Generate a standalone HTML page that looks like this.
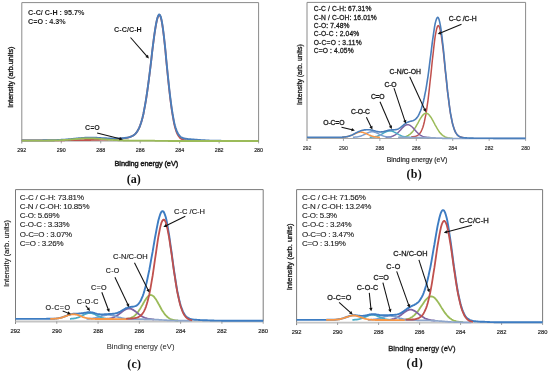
<!DOCTYPE html>
<html><head><meta charset="utf-8"><title>XPS C1s spectra</title>
<style>html,body{margin:0;padding:0;background:#fff;width:550px;height:373px;overflow:hidden}svg{display:block}</style>
</head><body>
<svg width="550" height="373" viewBox="0 0 550 373">
<rect width="550" height="373" fill="#fff"/>
<path d="M21.80,143.50 V2.60 H258.60 V141.00" fill="none" stroke="#8A8A8A" stroke-width="1"/>
<line x1="21.80" y1="141.00" x2="258.60" y2="141.00" stroke="#9A9A9A" stroke-width="1.0"/>
<line x1="61.27" y1="141.00" x2="61.27" y2="143.40" stroke="#8A8A8A" stroke-width="0.8"/>
<line x1="100.73" y1="141.00" x2="100.73" y2="143.40" stroke="#8A8A8A" stroke-width="0.8"/>
<line x1="140.20" y1="141.00" x2="140.20" y2="143.40" stroke="#8A8A8A" stroke-width="0.8"/>
<line x1="179.67" y1="141.00" x2="179.67" y2="143.40" stroke="#8A8A8A" stroke-width="0.8"/>
<line x1="219.13" y1="141.00" x2="219.13" y2="143.40" stroke="#8A8A8A" stroke-width="0.8"/>
<line x1="258.60" y1="141.00" x2="258.60" y2="143.40" stroke="#8A8A8A" stroke-width="0.8"/>
<path d="M21.8,140.4 22.6,140.4 23.4,140.4 24.2,140.4 25.0,140.4 25.7,140.4 26.5,140.4 27.3,140.4 28.1,140.4 28.9,140.4 29.7,140.4 30.5,140.4 31.3,140.4 32.1,140.4 32.9,140.4 33.6,140.4 34.4,140.4 35.2,140.4 36.0,140.4 36.8,140.4 37.6,140.4 38.4,140.4 39.2,140.4 40.0,140.4 40.7,140.4 41.5,140.4 42.3,140.4 43.1,140.4 43.9,140.4 44.7,140.4 45.5,140.4 46.3,140.4 47.1,140.4 47.8,140.3 48.6,140.3 49.4,140.3 50.2,140.3 51.0,140.3 51.8,140.3 52.6,140.3 53.4,140.3 54.2,140.3 55.0,140.3 55.7,140.3 56.5,140.3 57.3,140.3 58.1,140.3 58.9,140.3 59.7,140.3 60.5,140.3 61.3,140.3 62.1,140.3 62.8,140.3 63.6,140.3 64.4,140.3 65.2,140.2 66.0,140.2 66.8,140.2 67.6,140.2 68.4,140.2 69.2,140.2 69.9,140.2 70.7,140.2 71.5,140.2 72.3,140.2 73.1,140.2 73.9,140.2 74.7,140.2 75.5,140.2 76.3,140.2 77.1,140.1 77.8,140.1 78.6,140.1 79.4,140.1 80.2,140.1 81.0,140.1 81.8,140.1 82.6,140.1 83.4,140.1 84.2,140.1 84.9,140.0 85.7,140.0 86.5,140.0 87.3,140.0 88.1,140.0 88.9,140.0 89.7,140.0 90.5,140.0 91.3,139.9 92.1,139.9 92.8,139.9 93.6,139.9 94.4,139.9 95.2,139.9 96.0,139.8 96.8,139.8 97.6,139.8 98.4,139.8 99.2,139.8 99.9,139.7 100.7,139.7 101.5,139.7 102.3,139.7 103.1,139.6 103.9,139.6 104.7,139.6 105.5,139.6 106.3,139.5 107.0,139.5 107.8,139.5 108.6,139.4 109.4,139.4 110.2,139.4 111.0,139.3 111.8,139.3 112.6,139.2 113.4,139.2 114.2,139.1 114.9,139.1 115.7,139.0 116.5,139.0 117.3,138.9 118.1,138.9 118.9,138.8 119.7,138.7 120.5,138.6 121.3,138.6 122.0,138.5 122.8,138.4 123.6,138.3 124.4,138.2 125.2,138.1 126.0,137.9 126.8,137.8 127.6,137.6 128.4,137.5 129.1,137.3 129.9,137.0 130.7,136.7 131.5,136.4 132.3,136.0 133.1,135.6 133.9,135.1 134.7,134.4 135.5,133.7 136.3,132.8 137.0,131.7 137.8,130.5 138.6,129.0 139.4,127.3 140.2,125.3 141.0,123.0 141.8,120.4 142.6,117.4 143.4,114.0 144.1,110.3 144.9,106.1 145.7,101.5 146.5,96.5 147.3,91.1 148.1,85.3 148.9,79.3 149.7,73.0 150.5,66.5 151.3,59.9 152.0,53.3 152.8,46.8 153.6,40.6 154.4,34.7 155.2,29.3 156.0,24.6 156.8,20.7 157.6,17.7 158.4,15.8 159.1,15.0 159.9,15.3 160.7,17.2 161.5,20.4 162.3,24.9 163.1,30.4 163.9,36.9 164.7,44.2 165.5,51.9 166.2,59.9 167.0,68.0 167.8,76.0 168.6,83.8 169.4,91.2 170.2,98.1 171.0,104.4 171.8,110.1 172.6,115.2 173.4,119.7 174.1,123.6 174.9,126.9 175.7,129.6 176.5,131.9 177.3,133.8 178.1,135.3 178.9,136.5 179.7,137.5 180.5,138.3 181.2,138.8 182.0,139.3 182.8,139.6 183.6,139.9 184.4,140.1 185.2,140.2 186.0,140.3 186.8,140.4 187.6,140.5 188.3,140.5 189.1,140.6 189.9,140.6 190.7,140.6 191.5,140.6 192.3,140.7 193.1,140.7 193.9,140.7 194.7,140.7 195.5,140.7 196.2,140.7 197.0,140.7 197.8,140.8 198.6,140.8 199.4,140.8 200.2,140.8 201.0,140.8 201.8,140.8 202.6,140.8 203.3,140.8 204.1,140.8 204.9,140.8 205.7,140.8 206.5,140.8 207.3,140.8 208.1,140.8 208.9,140.8 209.7,140.9 210.5,140.9 211.2,140.9 212.0,140.9 212.8,140.9 213.6,140.9 214.4,140.9 215.2,140.9 216.0,140.9 216.8,140.9 217.6,140.9 218.3,140.9 219.1,140.9 219.9,140.9 220.7,140.9 221.5,140.9 222.3,140.9 223.1,140.9 223.9,140.9 224.7,140.9 225.4,140.9 226.2,140.9 227.0,140.9 227.8,140.9 228.6,140.9 229.4,140.9 230.2,140.9 231.0,140.9 231.8,140.9 232.6,140.9 233.3,140.9 234.1,140.9 234.9,140.9 235.7,140.9 236.5,140.9 237.3,140.9 238.1,140.9 238.9,140.9 239.7,140.9 240.4,140.9 241.2,140.9 242.0,140.9 242.8,140.9 243.6,140.9 244.4,140.9 245.2,140.9 246.0,140.9 246.8,141.0 247.5,141.0 248.3,141.0 249.1,141.0 249.9,141.0 250.7,141.0 251.5,141.0 252.3,141.0 253.1,141.0 253.9,141.0 254.7,141.0 255.4,141.0 256.2,141.0 257.0,141.0 257.8,141.0 258.6,141.0" fill="none" stroke="#C0504D" stroke-width="1.80" stroke-linejoin="round"/>
<path d="M21.8,140.4 22.6,140.4 23.4,140.4 24.2,140.4 25.0,140.4 25.7,140.4 26.5,140.4 27.3,140.4 28.1,140.4 28.9,140.4 29.7,140.4 30.5,140.4 31.3,140.4 32.1,140.4 32.9,140.4 33.6,140.4 34.4,140.4 35.2,140.4 36.0,140.4 36.8,140.4 37.6,140.4 38.4,140.4 39.2,140.4 40.0,140.4 40.7,140.4 41.5,140.4 42.3,140.4 43.1,140.3 43.9,140.3 44.7,140.3 45.5,140.3 46.3,140.3 47.1,140.3 47.8,140.3 48.6,140.3 49.4,140.3 50.2,140.3 51.0,140.2 51.8,140.2 52.6,140.2 53.4,140.2 54.2,140.2 55.0,140.1 55.7,140.1 56.5,140.1 57.3,140.0 58.1,140.0 58.9,140.0 59.7,139.9 60.5,139.9 61.3,139.8 62.1,139.8 62.8,139.7 63.6,139.7 64.4,139.6 65.2,139.6 66.0,139.5 66.8,139.4 67.6,139.4 68.4,139.3 69.2,139.2 69.9,139.2 70.7,139.1 71.5,139.0 72.3,138.9 73.1,138.9 73.9,138.8 74.7,138.7 75.5,138.6 76.3,138.5 77.1,138.5 77.8,138.4 78.6,138.3 79.4,138.2 80.2,138.2 81.0,138.1 81.8,138.0 82.6,138.0 83.4,137.9 84.2,137.9 84.9,137.8 85.7,137.8 86.5,137.7 87.3,137.7 88.1,137.7 88.9,137.7 89.7,137.7 90.5,137.7 91.3,137.7 92.1,137.7 92.8,137.7 93.6,137.7 94.4,137.7 95.2,137.8 96.0,137.8 96.8,137.8 97.6,137.9 98.4,137.9 99.2,137.9 99.9,138.0 100.7,138.0 101.5,138.1 102.3,138.1 103.1,138.2 103.9,138.2 104.7,138.3 105.5,138.3 106.3,138.3 107.0,138.4 107.8,138.4 108.6,138.5 109.4,138.5 110.2,138.5 111.0,138.5 111.8,138.5 112.6,138.6 113.4,138.6 114.2,138.6 114.9,138.6 115.7,138.6 116.5,138.5 117.3,138.5 118.1,138.5 118.9,138.5 119.7,138.4 120.5,138.4 121.3,138.3 122.0,138.3 122.8,138.2 123.6,138.1 124.4,138.0 125.2,137.9 126.0,137.8 126.8,137.7 127.6,137.6 128.4,137.4 129.1,137.2 129.9,137.0 130.7,136.7 131.5,136.4 132.3,136.0 133.1,135.6 133.9,135.0 134.7,134.4 135.5,133.6 136.3,132.7 137.0,131.7 137.8,130.4 138.6,129.0 139.4,127.3 140.2,125.3 141.0,123.0 141.8,120.3 142.6,117.3 143.4,114.0 144.1,110.2 144.9,106.0 145.7,101.4 146.5,96.4 147.3,91.0 148.1,85.2 148.9,79.1 149.7,72.8 150.5,66.3 151.3,59.7 152.0,53.1 152.8,46.5 153.6,40.3 154.4,34.4 155.2,29.0 156.0,24.2 156.8,20.3 157.6,17.3 158.4,15.3 159.1,14.4 159.9,14.8 160.7,16.6 161.5,19.7 162.3,24.2 163.1,29.7 163.9,36.1 164.7,43.3 165.5,51.0 166.2,58.9 167.0,67.0 167.8,75.0 168.6,82.7 169.4,90.0 170.2,96.9 171.0,103.2 171.8,108.8 172.6,113.9 173.4,118.3 174.1,122.1 174.9,125.4 175.7,128.1 176.5,130.4 177.3,132.3 178.1,133.8 178.9,135.0 179.7,135.9 180.5,136.7 181.2,137.2 182.0,137.7 182.8,138.0 183.6,138.3 184.4,138.5 185.2,138.7 186.0,138.8 186.8,138.9 187.6,139.0 188.3,139.1 189.1,139.2 189.9,139.2 190.7,139.3 191.5,139.4 192.3,139.4 193.1,139.5 193.9,139.5 194.7,139.6 195.5,139.7 196.2,139.7 197.0,139.8 197.8,139.9 198.6,139.9 199.4,140.0 200.2,140.0 201.0,140.1 201.8,140.1 202.6,140.2 203.3,140.2 204.1,140.3 204.9,140.3 205.7,140.4 206.5,140.4 207.3,140.5 208.1,140.5 208.9,140.5 209.7,140.6 210.5,140.6 211.2,140.6 212.0,140.7 212.8,140.7 213.6,140.7 214.4,140.7 215.2,140.7 216.0,140.8 216.8,140.8 217.6,140.8 218.3,140.8 219.1,140.8 219.9,140.8 220.7,140.8 221.5,140.9 222.3,140.9 223.1,140.9 223.9,140.9 224.7,140.9 225.4,140.9 226.2,140.9 227.0,140.9 227.8,140.9 228.6,140.9 229.4,140.9 230.2,140.9 231.0,140.9 231.8,140.9 232.6,140.9 233.3,140.9 234.1,140.9 234.9,140.9 235.7,140.9 236.5,140.9 237.3,140.9 238.1,140.9 238.9,140.9 239.7,140.9 240.4,140.9 241.2,140.9 242.0,140.9 242.8,140.9 243.6,140.9 244.4,140.9 245.2,140.9 246.0,140.9 246.8,141.0 247.5,141.0 248.3,141.0 249.1,141.0 249.9,141.0 250.7,141.0 251.5,141.0 252.3,141.0 253.1,141.0 253.9,141.0 254.7,141.0 255.4,141.0 256.2,141.0 257.0,141.0 257.8,141.0 258.6,141.0" fill="none" stroke="#4A7EBB" stroke-width="1.90" stroke-linejoin="round"/>
<path d="M21.8,140.6 22.6,140.6 23.4,140.6 24.2,140.6 25.0,140.6 25.7,140.6 26.5,140.6 27.3,140.6 28.1,140.6 28.9,140.6 29.7,140.6 30.5,140.6 31.3,140.6 32.1,140.6 32.9,140.6 33.6,140.6 34.4,140.6 35.2,140.6 36.0,140.6 36.8,140.6 37.6,140.6 38.4,140.6 39.2,140.6 40.0,140.6 40.7,140.6 41.5,140.6 42.3,140.6 43.1,140.6 43.9,140.6 44.7,140.6 45.5,140.6 46.3,140.6 47.1,140.6 47.8,140.5 48.6,140.5 49.4,140.5 50.2,140.5 51.0,140.5 51.8,140.5 52.6,140.5 53.4,140.5 54.2,140.4 55.0,140.4 55.7,140.4 56.5,140.4 57.3,140.3 58.1,140.3 58.9,140.3 59.7,140.2 60.5,140.2 61.3,140.2 62.1,140.1 62.8,140.1 63.6,140.0 64.4,140.0 65.2,139.9 66.0,139.9 66.8,139.8 67.6,139.8 68.4,139.7 69.2,139.6 69.9,139.6 70.7,139.5 71.5,139.4 72.3,139.3 73.1,139.3 73.9,139.2 74.7,139.1 75.5,139.1 76.3,139.0 77.1,138.9 77.8,138.8 78.6,138.8 79.4,138.7 80.2,138.7 81.0,138.6 81.8,138.5 82.6,138.5 83.4,138.5 84.2,138.4 84.9,138.4 85.7,138.4 86.5,138.3 87.3,138.3 88.1,138.3 88.9,138.3 89.7,138.3 90.5,138.3 91.3,138.3 92.1,138.4 92.8,138.4 93.6,138.4 94.4,138.5 95.2,138.5 96.0,138.6 96.8,138.6 97.6,138.7 98.4,138.7 99.2,138.8 99.9,138.9 100.7,138.9 101.5,139.0 102.3,139.1 103.1,139.1 103.9,139.2 104.7,139.3 105.5,139.4 106.3,139.4 107.0,139.5 107.8,139.6 108.6,139.6 109.4,139.7 110.2,139.8 111.0,139.8 111.8,139.9 112.6,139.9 113.4,140.0 114.2,140.1 114.9,140.1 115.7,140.1 116.5,140.2 117.3,140.2 118.1,140.3 118.9,140.3 119.7,140.3 120.5,140.4 121.3,140.4 122.0,140.4 122.8,140.4 123.6,140.5 124.4,140.5 125.2,140.5 126.0,140.5 126.8,140.5 127.6,140.5 128.4,140.5 129.1,140.6 129.9,140.6 130.7,140.6 131.5,140.6 132.3,140.6 133.1,140.6 133.9,140.6 134.7,140.6 135.5,140.6 136.3,140.6 137.0,140.6 137.8,140.6 138.6,140.6 139.4,140.6 140.2,140.6 141.0,140.6 141.8,140.6 142.6,140.6 143.4,140.6 144.1,140.6 144.9,140.6 145.7,140.7 146.5,140.7 147.3,140.7 148.1,140.7 148.9,140.7 149.7,140.7 150.5,140.7 151.3,140.7 152.0,140.7 152.8,140.7 153.6,140.7 154.4,140.7 155.2,140.8 156.0,140.8 156.8,140.8 157.6,140.8 158.4,140.8 159.1,140.8 159.9,140.8 160.7,140.8 161.5,140.9 162.3,140.9 163.1,140.9 163.9,140.9 164.7,140.9 165.5,140.9 166.2,140.9 167.0,140.9 167.8,140.9 168.6,141.0 169.4,141.0 170.2,141.0 171.0,141.0 171.8,141.0 172.6,141.0 173.4,141.0 174.1,141.0 174.9,141.0 175.7,141.0 176.5,141.0 177.3,141.0 178.1,141.0 178.9,141.0 179.7,141.0 180.5,141.0 181.2,141.0 182.0,141.0 182.8,141.0 183.6,141.0 184.4,141.0 185.2,141.0 186.0,141.0 186.8,141.0 187.6,141.0 188.3,141.0 189.1,141.0 189.9,141.0 190.7,141.0 191.5,141.0 192.3,141.0 193.1,141.0 193.9,141.0 194.7,141.0 195.5,141.0 196.2,141.0 197.0,141.0 197.8,141.0 198.6,141.0 199.4,141.0 200.2,141.0 201.0,141.0 201.8,141.0 202.6,141.0 203.3,141.0 204.1,141.0 204.9,141.0 205.7,141.0 206.5,141.0 207.3,141.0 208.1,141.0 208.9,141.0 209.7,141.0 210.5,141.0 211.2,141.0 212.0,141.0 212.8,141.0 213.6,141.0 214.4,141.0 215.2,141.0 216.0,141.0 216.8,141.0 217.6,141.0 218.3,141.0 219.1,141.0 219.9,141.0 220.7,141.0 221.5,141.0 222.3,141.0 223.1,141.0 223.9,141.0 224.7,141.0 225.4,141.0 226.2,141.0 227.0,141.0 227.8,141.0 228.6,141.0 229.4,141.0 230.2,141.0 231.0,141.0 231.8,141.0 232.6,141.0 233.3,141.0 234.1,141.0 234.9,141.0 235.7,141.0 236.5,141.0 237.3,141.0 238.1,141.0 238.9,141.0 239.7,141.0 240.4,141.0 241.2,141.0 242.0,141.0 242.8,141.0 243.6,141.0 244.4,141.0 245.2,141.0 246.0,141.0 246.8,141.0 247.5,141.0 248.3,141.0 249.1,141.0 249.9,141.0 250.7,141.0 251.5,141.0 252.3,141.0 253.1,141.0 253.9,141.0 254.7,141.0 255.4,141.0 256.2,141.0 257.0,141.0 257.8,141.0 258.6,141.0" fill="none" stroke="#9BBB59" stroke-width="1.80" stroke-linejoin="round"/>
<path d="M307.00,141.00 V2.40 H525.60 V138.50" fill="none" stroke="#8A8A8A" stroke-width="1"/>
<line x1="307.00" y1="138.50" x2="525.60" y2="138.50" stroke="#A8A8A8" stroke-width="1.0"/>
<line x1="343.43" y1="138.50" x2="343.43" y2="140.90" stroke="#8A8A8A" stroke-width="0.8"/>
<line x1="379.87" y1="138.50" x2="379.87" y2="140.90" stroke="#8A8A8A" stroke-width="0.8"/>
<line x1="416.30" y1="138.50" x2="416.30" y2="140.90" stroke="#8A8A8A" stroke-width="0.8"/>
<line x1="452.73" y1="138.50" x2="452.73" y2="140.90" stroke="#8A8A8A" stroke-width="0.8"/>
<line x1="489.17" y1="138.50" x2="489.17" y2="140.90" stroke="#8A8A8A" stroke-width="0.8"/>
<line x1="525.60" y1="138.50" x2="525.60" y2="140.90" stroke="#8A8A8A" stroke-width="0.8"/>
<path d="M411.2,136.9 411.9,136.8 412.7,136.8 413.4,136.7 414.1,136.6 414.8,136.4 415.6,136.2 416.3,136.0 417.0,135.7 417.8,135.3 418.5,134.7 419.2,134.1 419.9,133.2 420.7,132.1 421.4,130.8 422.1,129.2 422.9,127.2 423.6,124.8 424.3,122.0 425.0,118.7 425.8,114.9 426.5,110.6 427.2,105.7 428.0,100.3 428.7,94.4 429.4,88.1 430.1,81.5 430.9,74.6 431.6,67.6 432.3,60.6 433.1,53.8 433.8,47.3 434.5,41.4 435.2,36.2 436.0,31.9 436.7,28.7 437.4,26.5 438.2,25.6 438.9,26.0 439.6,27.6 440.3,30.4 441.1,34.2 441.8,39.1 442.5,44.7 443.3,50.9 444.0,57.6 444.7,64.6 445.4,71.7 446.2,78.7 446.9,85.5 447.6,92.1 448.4,98.2 449.1,103.8 449.8,109.0 450.5,113.6 451.3,117.7 452.0,121.3 452.7,124.3 453.5,126.9 454.2,129.1 454.9,130.9 455.6,132.4 456.4,133.6 457.1,134.6 457.8,135.4 458.6,136.0 459.3,136.5 460.0,136.8 460.7,137.1 461.5,137.3 462.2,137.5 462.9,137.6 463.7,137.7 464.4,137.8 465.1,137.9" fill="none" stroke="#C0504D" stroke-width="1.50" stroke-linejoin="round"/>
<path d="M399.5,137.3 400.3,137.3 401.0,137.2 401.7,137.2 402.5,137.1 403.2,137.0 403.9,136.9 404.6,136.8 405.4,136.6 406.1,136.4 406.8,136.1 407.6,135.8 408.3,135.4 409.0,134.9 409.7,134.4 410.5,133.8 411.2,133.1 411.9,132.4 412.7,131.5 413.4,130.6 414.1,129.5 414.8,128.4 415.6,127.2 416.3,126.0 417.0,124.7 417.8,123.4 418.5,122.0 419.2,120.7 419.9,119.4 420.7,118.2 421.4,117.1 422.1,116.0 422.9,115.1 423.6,114.4 424.3,113.8 425.0,113.4 425.8,113.3 426.5,113.3 427.2,113.5 428.0,113.9 428.7,114.5 429.4,115.3 430.1,116.2 430.9,117.2 431.6,118.4 432.3,119.7 433.1,121.0 433.8,122.4 434.5,123.7 435.2,125.1 436.0,126.4 436.7,127.7 437.4,128.9 438.2,130.1 438.9,131.2 439.6,132.2 440.3,133.1 441.1,133.9 441.8,134.6 442.5,135.2 443.3,135.8 444.0,136.2 444.7,136.7 445.4,137.0 446.2,137.3 446.9,137.5 447.6,137.7 448.4,137.9 449.1,138.0 449.8,138.1 450.5,138.2 451.3,138.3 452.0,138.3 452.7,138.4" fill="none" stroke="#9BBB59" stroke-width="1.50" stroke-linejoin="round"/>
<path d="M385.7,137.3 386.4,137.3 387.2,137.2 387.9,137.2 388.6,137.1 389.3,137.0 390.1,136.9 390.8,136.7 391.5,136.6 392.3,136.3 393.0,136.1 393.7,135.7 394.4,135.3 395.2,134.9 395.9,134.4 396.6,133.8 397.4,133.2 398.1,132.5 398.8,131.8 399.5,131.0 400.3,130.2 401.0,129.4 401.7,128.6 402.5,127.8 403.2,127.1 403.9,126.4 404.6,125.9 405.4,125.4 406.1,125.0 406.8,124.8 407.6,124.7 408.3,124.7 409.0,124.9 409.7,125.2 410.5,125.6 411.2,126.2 411.9,126.8 412.7,127.5 413.4,128.3 414.1,129.1 414.8,129.9 415.6,130.7 416.3,131.5 417.0,132.3 417.8,133.0 418.5,133.7 419.2,134.3 419.9,134.8 420.7,135.3 421.4,135.7 422.1,136.1 422.9,136.4 423.6,136.6 424.3,136.9 425.0,137.0 425.8,137.2 426.5,137.3 427.2,137.4 428.0,137.5 428.7,137.6 429.4,137.6" fill="none" stroke="#8064A2" stroke-width="1.50" stroke-linejoin="round"/>
<path d="M369.7,137.2 370.4,137.2 371.1,137.2 371.9,137.1 372.6,137.1 373.3,137.0 374.0,136.9 374.8,136.7 375.5,136.6 376.2,136.4 377.0,136.2 377.7,136.0 378.4,135.7 379.1,135.4 379.9,135.1 380.6,134.7 381.3,134.3 382.1,133.9 382.8,133.5 383.5,133.1 384.2,132.7 385.0,132.3 385.7,132.0 386.4,131.6 387.2,131.4 387.9,131.2 388.6,131.0 389.3,130.9 390.1,130.9 390.8,131.0 391.5,131.1 392.3,131.3 393.0,131.5 393.7,131.8 394.4,132.2 395.2,132.5 395.9,132.9 396.6,133.3 397.4,133.8 398.1,134.2 398.8,134.6 399.5,134.9 400.3,135.3 401.0,135.6 401.7,135.9 402.5,136.2 403.2,136.4 403.9,136.6 404.6,136.8 405.4,136.9 406.1,137.0 406.8,137.1 407.6,137.2 408.3,137.3 409.0,137.3 409.7,137.4 410.5,137.4" fill="none" stroke="#4BACC6" stroke-width="1.50" stroke-linejoin="round"/>
<path d="M352.9,137.2 353.6,137.2 354.4,137.2 355.1,137.1 355.8,137.0 356.5,137.0 357.3,136.9 358.0,136.7 358.7,136.6 359.5,136.4 360.2,136.2 360.9,136.0 361.6,135.7 362.4,135.4 363.1,135.1 363.8,134.8 364.6,134.4 365.3,134.1 366.0,133.7 366.8,133.3 367.5,133.0 368.2,132.7 368.9,132.4 369.7,132.1 370.4,132.0 371.1,131.8 371.9,131.8 372.6,131.8 373.3,131.8 374.0,132.0 374.8,132.2 375.5,132.4 376.2,132.7 377.0,133.0 377.7,133.4 378.4,133.7 379.1,134.1 379.9,134.5 380.6,134.8 381.3,135.2 382.1,135.5 382.8,135.8 383.5,136.1 384.2,136.3 385.0,136.5 385.7,136.7 386.4,136.8 387.2,136.9 387.9,137.0 388.6,137.1 389.3,137.2 390.1,137.2 390.8,137.3 391.5,137.3" fill="none" stroke="#7EA0D0" stroke-width="1.50" stroke-linejoin="round"/>
<path d="M342.0,137.2 342.7,137.2 343.4,137.1 344.2,137.1 344.9,137.0 345.6,136.9 346.3,136.8 347.1,136.7 347.8,136.5 348.5,136.3 349.3,136.1 350.0,135.9 350.7,135.6 351.4,135.3 352.2,135.0 352.9,134.7 353.6,134.4 354.4,134.0 355.1,133.7 355.8,133.4 356.5,133.0 357.3,132.8 358.0,132.5 358.7,132.3 359.5,132.2 360.2,132.1 360.9,132.1 361.6,132.2 362.4,132.3 363.1,132.4 363.8,132.7 364.6,132.9 365.3,133.2 366.0,133.5 366.8,133.9 367.5,134.2 368.2,134.6 368.9,134.9 369.7,135.2 370.4,135.5 371.1,135.8 371.9,136.1 372.6,136.3 373.3,136.5 374.0,136.7 374.8,136.8 375.5,136.9 376.2,137.0 377.0,137.1 377.7,137.2 378.4,137.2 379.1,137.3 379.9,137.3" fill="none" stroke="#F79646" stroke-width="1.50" stroke-linejoin="round"/>
<path d="M398.1,137.4 398.8,137.4 399.5,137.4 400.3,137.4 401.0,137.4 401.7,137.4 402.5,137.4 403.2,137.4 403.9,137.4 404.6,137.4 405.4,137.5 406.1,137.5 406.8,137.5 407.6,137.5 408.3,137.5 409.0,137.5 409.7,137.5 410.5,137.5 411.2,137.5 411.9,137.5 412.7,137.5 413.4,137.5 414.1,137.5 414.8,137.5 415.6,137.5 416.3,137.5 417.0,137.5 417.8,137.5 418.5,137.5 419.2,137.5 419.9,137.6 420.7,137.6 421.4,137.6 422.1,137.6 422.9,137.6 423.6,137.6 424.3,137.6 425.0,137.6 425.8,137.6 426.5,137.7 427.2,137.7 428.0,137.7 428.7,137.7 429.4,137.7 430.1,137.7 430.9,137.8 431.6,137.8 432.3,137.8 433.1,137.8 433.8,137.9 434.5,137.9 435.2,137.9 436.0,138.0 436.7,138.0 437.4,138.0 438.2,138.1 438.9,138.1 439.6,138.1 440.3,138.2 441.1,138.2 441.8,138.2 442.5,138.3 443.3,138.3 444.0,138.3 444.7,138.3 445.4,138.4 446.2,138.4 446.9,138.4 447.6,138.4 448.4,138.4 449.1,138.4 449.8,138.5 450.5,138.5 451.3,138.5 452.0,138.5 452.7,138.5 453.5,138.5 454.2,138.5 454.9,138.5 455.6,138.5 456.4,138.5 457.1,138.5 457.8,138.5 458.6,138.5 459.3,138.5 460.0,138.5 460.7,138.5 461.5,138.5 462.2,138.5 462.9,138.5 463.7,138.5 464.4,138.5 465.1,138.5 465.8,138.5 466.6,138.5 467.3,138.5 468.0,138.5 468.8,138.5 469.5,138.5 470.2,138.5 471.0,138.5 471.7,138.5 472.4,138.5 473.1,138.5 473.9,138.5 474.6,138.5 475.3,138.5 476.1,138.5 476.8,138.5 477.5,138.5 478.2,138.5 479.0,138.5 479.7,138.5 480.4,138.5 481.2,138.5 481.9,138.5 482.6,138.5 483.3,138.5 484.1,138.5 484.8,138.5 485.5,138.5 486.3,138.5 487.0,138.5 487.7,138.5 488.4,138.5 489.2,138.5 489.9,138.5 490.6,138.5 491.4,138.5 492.1,138.5 492.8,138.5 493.5,138.5 494.3,138.5 495.0,138.5 495.7,138.5 496.5,138.5 497.2,138.5 497.9,138.5 498.6,138.5 499.4,138.5 500.1,138.5 500.8,138.5 501.6,138.5 502.3,138.5 503.0,138.5 503.7,138.5 504.5,138.5 505.2,138.5 505.9,138.5 506.7,138.5 507.4,138.5 508.1,138.5 508.8,138.5 509.6,138.5 510.3,138.5 511.0,138.5 511.8,138.5 512.5,138.5 513.2,138.5 513.9,138.5 514.7,138.5 515.4,138.5 516.1,138.5 516.9,138.5 517.6,138.5 518.3,138.5 519.0,138.5 519.8,138.5 520.5,138.5 521.2,138.5 522.0,138.5 522.7,138.5 523.4,138.5 524.1,138.5 524.9,138.5 525.6,138.5" fill="none" stroke="#8EA6CC" stroke-width="1.7"/>
<path d="M307.0,137.3 307.7,137.3 308.5,137.3 309.2,137.3 309.9,137.3 310.6,137.3 311.4,137.3 312.1,137.3 312.8,137.3 313.6,137.3 314.3,137.3 315.0,137.3 315.7,137.3 316.5,137.3 317.2,137.3 317.9,137.3 318.7,137.3 319.4,137.3 320.1,137.3 320.8,137.3 321.6,137.3 322.3,137.3 323.0,137.3 323.8,137.3 324.5,137.3 325.2,137.3 325.9,137.3 326.7,137.3 327.4,137.3 328.1,137.3 328.9,137.3 329.6,137.3 330.3,137.3 331.0,137.3 331.8,137.3 332.5,137.3 333.2,137.3 334.0,137.3 334.7,137.3 335.4,137.3 336.1,137.3 336.9,137.2 337.6,137.2 338.3,137.2 339.1,137.2 339.8,137.2 340.5,137.2 341.2,137.2 342.0,137.2 342.7,137.1 343.4,137.1 344.2,137.0 344.9,136.9 345.6,136.9 346.3,136.7 347.1,136.6 347.8,136.5 348.5,136.3 349.3,136.1 350.0,135.8 350.7,135.5 351.4,135.2 352.2,134.9 352.9,134.6 353.6,134.2 354.4,133.8 355.1,133.4 355.8,133.0 356.5,132.6 357.3,132.3 358.0,131.9 358.7,131.6 359.5,131.2 360.2,131.0 360.9,130.7 361.6,130.5 362.4,130.3 363.1,130.2 363.8,130.0 364.6,129.9 365.3,129.9 366.0,129.8 366.8,129.8 367.5,129.8 368.2,129.8 368.9,129.8 369.7,129.8 370.4,129.9 371.1,130.0 371.9,130.1 372.6,130.3 373.3,130.5 374.0,130.7 374.8,130.9 375.5,131.1 376.2,131.3 377.0,131.5 377.7,131.6 378.4,131.8 379.1,131.9 379.9,132.0 380.6,132.0 381.3,131.9 382.1,131.9 382.8,131.7 383.5,131.6 384.2,131.4 385.0,131.2 385.7,131.0 386.4,130.8 387.2,130.6 387.9,130.4 388.6,130.3 389.3,130.1 390.1,130.0 390.8,130.0 391.5,129.9 392.3,129.9 393.0,129.9 393.7,129.9 394.4,129.8 395.2,129.8 395.9,129.6 396.6,129.5 397.4,129.2 398.1,129.0 398.8,128.6 399.5,128.1 400.3,127.7 401.0,127.1 401.7,126.5 402.5,125.9 403.2,125.3 403.9,124.7 404.6,124.1 405.4,123.6 406.1,123.1 406.8,122.6 407.6,122.3 408.3,122.0 409.0,121.7 409.7,121.5 410.5,121.3 411.2,121.1 411.9,121.0 412.7,120.8 413.4,120.5 414.1,120.1 414.8,119.7 415.6,119.1 416.3,118.4 417.0,117.6 417.8,116.5 418.5,115.3 419.2,113.9 419.9,112.3 420.7,110.5 421.4,108.4 422.1,106.1 422.9,103.5 423.6,100.7 424.3,97.5 425.0,93.9 425.8,90.1 426.5,85.8 427.2,81.3 428.0,76.3 428.7,71.1 429.4,65.6 430.1,59.9 430.9,54.0 431.6,48.2 432.3,42.4 433.1,36.9 433.8,31.8 434.5,27.2 435.2,23.4 436.0,20.4 436.7,18.4 437.4,17.4 438.2,17.6 438.9,19.0 439.6,21.6 440.3,25.2 441.1,29.9 441.8,35.4 442.5,41.6 443.3,48.4 444.0,55.6 444.7,62.9 445.4,70.3 446.2,77.6 446.9,84.7 447.6,91.4 448.4,97.6 449.1,103.4 449.8,108.7 450.5,113.4 451.3,117.5 452.0,121.1 452.7,124.2 453.5,126.9 454.2,129.1 454.9,130.9 455.6,132.4 456.4,133.6 457.1,134.6 457.8,135.4 458.6,136.0 459.3,136.4 460.0,136.8 460.7,137.1 461.5,137.3 462.2,137.5 462.9,137.6 463.7,137.7 464.4,137.8 465.1,137.9 465.8,137.9 466.6,137.9 467.3,138.0 468.0,138.0 468.8,138.0 469.5,138.1 470.2,138.1 471.0,138.1 471.7,138.1 472.4,138.1 473.1,138.1 473.9,138.2 474.6,138.2 475.3,138.2 476.1,138.2 476.8,138.2 477.5,138.2 478.2,138.2 479.0,138.2 479.7,138.2 480.4,138.3 481.2,138.3 481.9,138.3 482.6,138.3 483.3,138.3 484.1,138.3 484.8,138.3 485.5,138.3 486.3,138.3 487.0,138.3 487.7,138.3 488.4,138.3 489.2,138.3 489.9,138.3 490.6,138.3 491.4,138.3 492.1,138.3 492.8,138.3 493.5,138.4 494.3,138.4 495.0,138.4 495.7,138.4 496.5,138.4 497.2,138.4 497.9,138.4 498.6,138.4 499.4,138.4 500.1,138.4 500.8,138.4 501.6,138.4 502.3,138.4 503.0,138.4 503.7,138.4 504.5,138.4 505.2,138.4 505.9,138.4 506.7,138.4 507.4,138.4 508.1,138.4 508.8,138.4 509.6,138.4 510.3,138.4 511.0,138.4 511.8,138.4 512.5,138.4 513.2,138.4 513.9,138.4 514.7,138.4 515.4,138.4 516.1,138.4 516.9,138.4 517.6,138.4 518.3,138.4 519.0,138.4 519.8,138.4 520.5,138.4 521.2,138.4 522.0,138.4 522.7,138.4 523.4,138.4 524.1,138.4 524.9,138.4 525.6,138.4" fill="none" stroke="#4A7EBB" stroke-width="1.60" stroke-linejoin="round"/>
<path d="M15.50,323.90 V189.60 H263.20 V321.40" fill="none" stroke="#7A7A7A" stroke-width="1"/>
<line x1="15.50" y1="321.40" x2="263.20" y2="321.40" stroke="#C4C4C4" stroke-width="2.0"/>
<line x1="56.78" y1="321.40" x2="56.78" y2="323.80" stroke="#8A8A8A" stroke-width="0.8"/>
<line x1="98.07" y1="321.40" x2="98.07" y2="323.80" stroke="#8A8A8A" stroke-width="0.8"/>
<line x1="139.35" y1="321.40" x2="139.35" y2="323.80" stroke="#8A8A8A" stroke-width="0.8"/>
<line x1="180.63" y1="321.40" x2="180.63" y2="323.80" stroke="#8A8A8A" stroke-width="0.8"/>
<line x1="221.92" y1="321.40" x2="221.92" y2="323.80" stroke="#8A8A8A" stroke-width="0.8"/>
<line x1="263.20" y1="321.40" x2="263.20" y2="323.80" stroke="#8A8A8A" stroke-width="0.8"/>
<path d="M123.7,319.0 124.5,319.0 125.3,318.9 126.1,318.8 127.0,318.8 127.8,318.6 128.6,318.5 129.4,318.3 130.3,318.1 131.1,317.8 131.9,317.4 132.7,317.0 133.6,316.5 134.4,315.9 135.2,315.2 136.0,314.4 136.9,313.5 137.7,312.4 138.5,311.3 139.3,310.1 140.2,308.8 141.0,307.4 141.8,305.9 142.7,304.5 143.5,303.0 144.3,301.6 145.1,300.2 146.0,298.9 146.8,297.8 147.6,296.8 148.4,296.0 149.3,295.4 150.1,295.1 150.9,295.0 151.7,295.2 152.6,295.6 153.4,296.2 154.2,297.0 155.0,298.1 155.9,299.2 156.7,300.6 157.5,302.0 158.3,303.5 159.2,305.0 160.0,306.5 160.8,308.0 161.6,309.5 162.5,310.9 163.3,312.1 164.1,313.3 164.9,314.4 165.8,315.4 166.6,316.2 167.4,317.0 168.2,317.6 169.1,318.2 169.9,318.7 170.7,319.1 171.6,319.4 172.4,319.7 173.2,319.9 174.0,320.1 174.9,320.2 175.7,320.3 176.5,320.4 177.3,320.5 178.2,320.5" fill="none" stroke="#9BBB59" stroke-width="1.80" stroke-linejoin="round"/>
<path d="M103.8,318.9 104.7,318.9 105.5,318.9 106.3,318.8 107.1,318.8 108.0,318.7 108.8,318.6 109.6,318.5 110.5,318.3 111.3,318.1 112.1,317.9 112.9,317.6 113.8,317.3 114.6,316.9 115.4,316.5 116.2,316.0 117.1,315.5 117.9,315.0 118.7,314.4 119.5,313.8 120.4,313.1 121.2,312.5 122.0,311.8 122.8,311.2 123.7,310.6 124.5,310.0 125.3,309.6 126.1,309.2 127.0,308.9 127.8,308.6 128.6,308.5 129.4,308.5 130.3,308.7 131.1,308.9 131.9,309.2 132.7,309.6 133.6,310.1 134.4,310.7 135.2,311.3 136.0,311.9 136.9,312.6 137.7,313.2 138.5,313.9 139.3,314.5 140.2,315.1 141.0,315.7 141.8,316.2 142.7,316.7 143.5,317.1 144.3,317.5 145.1,317.8 146.0,318.1 146.8,318.4 147.6,318.6 148.4,318.8 149.3,318.9 150.1,319.0 150.9,319.1 151.7,319.2 152.6,319.3 153.4,319.4 154.2,319.5" fill="none" stroke="#8064A2" stroke-width="1.80" stroke-linejoin="round"/>
<path d="M86.5,318.9 87.3,318.9 88.2,318.8 89.0,318.8 89.8,318.7 90.6,318.6 91.5,318.6 92.3,318.5 93.1,318.3 93.9,318.2 94.8,318.1 95.6,317.9 96.4,317.7 97.2,317.5 98.1,317.2 98.9,317.0 99.7,316.7 100.5,316.5 101.4,316.2 102.2,315.9 103.0,315.7 103.8,315.5 104.7,315.3 105.5,315.1 106.3,315.0 107.1,314.9 108.0,314.8 108.8,314.8 109.6,314.9 110.5,315.0 111.3,315.1 112.1,315.3 112.9,315.5 113.8,315.7 114.6,316.0 115.4,316.2 116.2,316.5 117.1,316.8 117.9,317.0 118.7,317.3 119.5,317.5 120.4,317.7 121.2,318.0 122.0,318.1 122.8,318.3 123.7,318.4 124.5,318.6 125.3,318.7 126.1,318.8 127.0,318.8 127.8,318.9 128.6,319.0 129.4,319.0 130.3,319.0" fill="none" stroke="#7EA0D0" stroke-width="1.80" stroke-linejoin="round"/>
<path d="M70.0,318.8 70.8,318.8 71.6,318.7 72.5,318.6 73.3,318.6 74.1,318.4 74.9,318.3 75.8,318.1 76.6,317.9 77.4,317.7 78.3,317.4 79.1,317.1 79.9,316.7 80.7,316.4 81.6,316.0 82.4,315.5 83.2,315.1 84.0,314.7 84.9,314.3 85.7,313.9 86.5,313.6 87.3,313.3 88.2,313.1 89.0,313.0 89.8,313.0 90.6,313.0 91.5,313.2 92.3,313.4 93.1,313.6 93.9,313.9 94.8,314.3 95.6,314.7 96.4,315.2 97.2,315.6 98.1,316.0 98.9,316.4 99.7,316.8 100.5,317.2 101.4,317.5 102.2,317.8 103.0,318.0 103.8,318.2 104.7,318.4 105.5,318.5 106.3,318.7 107.1,318.7 108.0,318.8 108.8,318.9 109.6,318.9" fill="none" stroke="#4BACC6" stroke-width="1.80" stroke-linejoin="round"/>
<path d="M15.5,318.9 16.3,318.9 17.2,318.9 18.0,318.9 18.8,318.9 19.6,318.9 20.5,318.9 21.3,318.9 22.1,318.9 22.9,318.9 23.8,318.9 24.6,318.9 25.4,318.9 26.2,318.9 27.1,318.9 27.9,318.9 28.7,318.9 29.5,318.9 30.4,318.9 31.2,318.9 32.0,318.9 32.8,318.9 33.7,318.9 34.5,318.9 35.3,318.9 36.1,318.9 37.0,318.9 37.8,318.9 38.6,318.9 39.4,318.9 40.3,318.9 41.1,318.9 41.9,318.9 42.7,318.9 43.6,318.9 44.4,318.9 45.2,318.9 46.0,318.9 46.9,318.8 47.7,318.8 48.5,318.8 49.4,318.8 50.2,318.8 51.0,318.8 51.8,318.8 52.7,318.8 53.5,318.7 54.3,318.7 55.1,318.6 56.0,318.6 56.8,318.5 57.6,318.4 58.4,318.2 59.3,318.1 60.1,317.9 60.9,317.7 61.7,317.5 62.6,317.2 63.4,316.9 64.2,316.6 65.0,316.3 65.9,316.0 66.7,315.7 67.5,315.4 68.3,315.0 69.2,314.8 70.0,314.5 70.8,314.3 71.6,314.1 72.5,313.9 73.3,313.8 74.1,313.7 74.9,313.6 75.8,313.6 76.6,313.6 77.4,313.6 78.3,313.6 79.1,313.5 79.9,313.5 80.7,313.4 81.6,313.3 82.4,313.2 83.2,313.1 84.0,312.9 84.9,312.8 85.7,312.6 86.5,312.5 87.3,312.3 88.2,312.3 89.0,312.2 89.8,312.2 90.6,312.3 91.5,312.4 92.3,312.5 93.1,312.7 93.9,312.9 94.8,313.2 95.6,313.4 96.4,313.7 97.2,313.9 98.1,314.1 98.9,314.2 99.7,314.3 100.5,314.4 101.4,314.5 102.2,314.5 103.0,314.4 103.8,314.4 104.7,314.3 105.5,314.3 106.3,314.2 107.1,314.1 108.0,314.1 108.8,314.0 109.6,314.0 110.5,313.9 111.3,313.9 112.1,313.9 112.9,313.8 113.8,313.7 114.6,313.6 115.4,313.4 116.2,313.2 117.1,313.0 117.9,312.7 118.7,312.3 119.5,311.9 120.4,311.5 121.2,311.0 122.0,310.5 122.8,310.0 123.7,309.5 124.5,309.0 125.3,308.6 126.1,308.1 127.0,307.8 127.8,307.5 128.6,307.3 129.4,307.1 130.3,307.0 131.1,306.9 131.9,306.8 132.7,306.7 133.6,306.6 134.4,306.4 135.2,306.2 136.0,305.9 136.9,305.4 137.7,304.7 138.5,303.9 139.3,302.8 140.2,301.5 141.0,300.0 141.8,298.2 142.7,296.1 143.5,293.7 144.3,291.1 145.1,288.2 146.0,285.1 146.8,281.7 147.6,278.0 148.4,274.1 149.3,270.0 150.1,265.7 150.9,261.2 151.7,256.6 152.6,251.9 153.4,247.1 154.2,242.3 155.0,237.6 155.9,233.0 156.7,228.6 157.5,224.6 158.3,220.8 159.2,217.6 160.0,214.9 160.8,212.9 161.6,211.6 162.5,211.1 163.3,211.4 164.1,212.6 164.9,214.6 165.8,217.3 166.6,220.8 167.4,225.0 168.2,229.8 169.1,235.0 169.9,240.6 170.7,246.5 171.6,252.5 172.4,258.6 173.2,264.7 174.0,270.5 174.9,276.2 175.7,281.5 176.5,286.5 177.3,291.1 178.2,295.3 179.0,299.0 179.8,302.3 180.6,305.3 181.5,307.8 182.3,310.0 183.1,311.8 183.9,313.4 184.8,314.7 185.6,315.8 186.4,316.6 187.2,317.3 188.1,317.9 188.9,318.3 189.7,318.7 190.5,319.0 191.4,319.2 192.2,319.4 193.0,319.5 193.8,319.6 194.7,319.7 195.5,319.8 196.3,319.8 197.1,319.9 198.0,319.9 198.8,320.0 199.6,320.0 200.4,320.1 201.3,320.1 202.1,320.1 202.9,320.2 203.8,320.2 204.6,320.2 205.4,320.3 206.2,320.3 207.1,320.3 207.9,320.4 208.7,320.4 209.5,320.4 210.4,320.5 211.2,320.5 212.0,320.5 212.8,320.5 213.7,320.5 214.5,320.6 215.3,320.6 216.1,320.6 217.0,320.6 217.8,320.6 218.6,320.6 219.4,320.6 220.3,320.6 221.1,320.6 221.9,320.7 222.7,320.7 223.6,320.7 224.4,320.7 225.2,320.7 226.0,320.7 226.9,320.7 227.7,320.7 228.5,320.7 229.3,320.7 230.2,320.7 231.0,320.7 231.8,320.7 232.7,320.7 233.5,320.7 234.3,320.7 235.1,320.7 236.0,320.7 236.8,320.7 237.6,320.7 238.4,320.7 239.3,320.7 240.1,320.7 240.9,320.7 241.7,320.7 242.6,320.7 243.4,320.7 244.2,320.7 245.0,320.7 245.9,320.7 246.7,320.7 247.5,320.7 248.3,320.7 249.2,320.7 250.0,320.7 250.8,320.7 251.6,320.7 252.5,320.7 253.3,320.7 254.1,320.7 254.9,320.7 255.8,320.7 256.6,320.7 257.4,320.7 258.2,320.7 259.1,320.7 259.9,320.7 260.7,320.7 261.5,320.7 262.4,320.7 263.2,320.7" fill="none" stroke="#3D7CC2" stroke-width="1.90" stroke-linejoin="round"/>
<path d="M128.6,319.1 129.4,319.1 130.3,319.1 131.1,319.1 131.9,319.1 132.7,319.1 133.6,319.2 134.4,319.2 135.2,319.2 136.0,319.2 136.9,319.2 137.7,319.2 138.5,319.2 139.3,319.2 140.2,319.2 141.0,319.2 141.8,319.2 142.7,319.2 143.5,319.2 144.3,319.3 145.1,319.3 146.0,319.3 146.8,319.3 147.6,319.3 148.4,319.3 149.3,319.4 150.1,319.4 150.9,319.4 151.7,319.4 152.6,319.5 153.4,319.5 154.2,319.5 155.0,319.6 155.9,319.6 156.7,319.7 157.5,319.7 158.3,319.7 159.2,319.8 160.0,319.8 160.8,319.9 161.6,319.9 162.5,320.0 163.3,320.0 164.1,320.1 164.9,320.1 165.8,320.2 166.6,320.2 167.4,320.3 168.2,320.3 169.1,320.4 169.9,320.4 170.7,320.4 171.6,320.5 172.4,320.5 173.2,320.5 174.0,320.5 174.9,320.6 175.7,320.6 176.5,320.6 177.3,320.6 178.2,320.6 179.0,320.6 179.8,320.6 180.6,320.7 181.5,320.7 182.3,320.7 183.1,320.7 183.9,320.7 184.8,320.7 185.6,320.7 186.4,320.7 187.2,320.7 188.1,320.7 188.9,320.7 189.7,320.7 190.5,320.7 191.4,320.7" fill="none" stroke="#8EA6CC" stroke-width="1.7"/>
<path d="M50.2,318.9 51.0,318.9 51.8,318.8 52.7,318.8 53.5,318.8 54.3,318.7 55.1,318.7 56.0,318.6 56.8,318.5 57.6,318.4 58.4,318.3 59.3,318.1 60.1,318.0 60.9,317.8 61.7,317.5 62.6,317.3 63.4,317.0 64.2,316.7 65.0,316.4 65.9,316.1 66.7,315.8 67.5,315.5 68.3,315.2 69.2,314.9 70.0,314.7 70.8,314.5 71.6,314.3 72.5,314.3 73.3,314.2 74.1,314.3 74.9,314.3 75.8,314.5 76.6,314.7 77.4,314.9 78.3,315.2 79.1,315.5 79.9,315.8 80.7,316.1 81.6,316.4 82.4,316.8 83.2,317.1 84.0,317.3 84.9,317.6 85.7,317.8 86.5,318.0 87.3,318.2 88.2,318.4 89.0,318.5 89.8,318.6 90.6,318.7 91.5,318.8 92.3,318.8 93.1,318.9 93.9,318.9 94.8,318.9 95.6,319.0 96.4,319.0 97.2,319.0 98.1,319.0 98.9,319.0 99.7,319.0 100.5,319.0 101.4,319.0 102.2,319.0 103.0,319.0 103.8,319.0 104.7,319.0 105.5,319.0 106.3,319.0 107.1,319.0 108.0,319.0 108.8,319.0 109.6,319.0 110.5,319.0 111.3,319.0 112.1,319.0 112.9,319.0 113.8,319.1 114.6,319.1 115.4,319.1 116.2,319.1 117.1,319.1 117.9,319.1 118.7,319.1 119.5,319.1 120.4,319.1 121.2,319.1 122.0,319.1 122.8,319.1 123.7,319.1 124.5,319.1 125.3,319.1 126.1,319.1 127.0,319.1 127.8,319.1" fill="none" stroke="#F79646" stroke-width="1.80" stroke-linejoin="round"/>
<path d="M126.1,318.7 127.0,318.7 127.8,318.7 128.6,318.6 129.4,318.6 130.3,318.6 131.1,318.5 131.9,318.5 132.7,318.4 133.6,318.3 134.4,318.2 135.2,318.1 136.0,317.9 136.9,317.7 137.7,317.4 138.5,317.1 139.3,316.6 140.2,316.0 141.0,315.3 141.8,314.5 142.7,313.4 143.5,312.1 144.3,310.6 145.1,308.8 146.0,306.6 146.8,304.1 147.6,301.3 148.4,298.0 149.3,294.4 150.1,290.4 150.9,285.9 151.7,281.1 152.6,276.0 153.4,270.6 154.2,265.0 155.0,259.3 155.9,253.5 156.7,247.8 157.5,242.4 158.3,237.2 159.2,232.5 160.0,228.4 160.8,224.9 161.6,222.3 162.5,220.5 163.3,219.6 164.1,219.6 164.9,220.6 165.8,222.4 166.6,225.2 167.4,228.7 168.2,232.8 169.1,237.6 169.9,242.8 170.7,248.4 171.6,254.2 172.4,260.0 173.2,265.9 174.0,271.7 174.9,277.2 175.7,282.5 176.5,287.4 177.3,292.0 178.2,296.2 179.0,299.9 179.8,303.3 180.6,306.2 181.5,308.8 182.3,311.0 183.1,312.8 183.9,314.4 184.8,315.7 185.6,316.8 186.4,317.6 187.2,318.3 188.1,318.9 188.9,319.3 189.7,319.7 190.5,319.9 191.4,320.1 192.2,320.3" fill="none" stroke="#C0504D" stroke-width="1.80" stroke-linejoin="round"/>
<path d="M296.60,325.10 V189.60 H542.60 V322.60" fill="none" stroke="#7A7A7A" stroke-width="1"/>
<line x1="296.60" y1="322.60" x2="542.60" y2="322.60" stroke="#C4C4C4" stroke-width="1.6"/>
<line x1="337.60" y1="322.60" x2="337.60" y2="325.00" stroke="#8A8A8A" stroke-width="0.8"/>
<line x1="378.60" y1="322.60" x2="378.60" y2="325.00" stroke="#8A8A8A" stroke-width="0.8"/>
<line x1="419.60" y1="322.60" x2="419.60" y2="325.00" stroke="#8A8A8A" stroke-width="0.8"/>
<line x1="460.60" y1="322.60" x2="460.60" y2="325.00" stroke="#8A8A8A" stroke-width="0.8"/>
<line x1="501.60" y1="322.60" x2="501.60" y2="325.00" stroke="#8A8A8A" stroke-width="0.8"/>
<line x1="542.60" y1="322.60" x2="542.60" y2="325.00" stroke="#8A8A8A" stroke-width="0.8"/>
<path d="M399.1,320.0 399.9,320.0 400.7,320.0 401.6,319.9 402.4,319.9 403.2,319.8 404.0,319.7 404.8,319.6 405.7,319.5 406.5,319.3 407.3,319.1 408.1,318.9 408.9,318.6 409.8,318.2 410.6,317.8 411.4,317.4 412.2,316.9 413.0,316.3 413.9,315.6 414.7,314.8 415.5,314.0 416.3,313.1 417.1,312.1 418.0,311.1 418.8,310.0 419.6,308.8 420.4,307.6 421.2,306.3 422.1,305.1 422.9,303.9 423.7,302.7 424.5,301.5 425.3,300.4 426.2,299.4 427.0,298.6 427.8,297.8 428.6,297.2 429.4,296.8 430.3,296.5 431.1,296.4 431.9,296.5 432.7,296.7 433.5,297.1 434.4,297.7 435.2,298.5 436.0,299.4 436.8,300.4 437.6,301.5 438.5,302.7 439.3,304.0 440.1,305.3 440.9,306.6 441.7,307.9 442.6,309.2 443.4,310.5 444.2,311.7 445.0,312.9 445.8,313.9 446.7,315.0 447.5,315.9 448.3,316.8 449.1,317.5 449.9,318.2 450.8,318.8 451.6,319.4 452.4,319.9 453.2,320.3 454.0,320.6 454.9,320.9 455.7,321.2 456.5,321.4 457.3,321.6 458.1,321.7 459.0,321.8 459.8,321.9 460.6,322.0 461.4,322.1 462.2,322.1 463.1,322.2" fill="none" stroke="#9BBB59" stroke-width="1.80" stroke-linejoin="round"/>
<path d="M386.0,320.0 386.8,319.9 387.6,319.9 388.4,319.8 389.3,319.8 390.1,319.7 390.9,319.6 391.7,319.4 392.5,319.2 393.4,319.0 394.2,318.8 395.0,318.5 395.8,318.2 396.6,317.8 397.5,317.3 398.3,316.9 399.1,316.3 399.9,315.8 400.7,315.2 401.6,314.5 402.4,313.9 403.2,313.3 404.0,312.6 404.8,312.0 405.7,311.4 406.5,310.9 407.3,310.5 408.1,310.1 408.9,309.9 409.8,309.7 410.6,309.7 411.4,309.7 412.2,309.9 413.0,310.2 413.9,310.6 414.7,311.0 415.5,311.5 416.3,312.1 417.1,312.7 418.0,313.4 418.8,314.1 419.6,314.7 420.4,315.4 421.2,316.0 422.1,316.6 422.9,317.1 423.7,317.6 424.5,318.1 425.3,318.5 426.2,318.8 427.0,319.1 427.8,319.4 428.6,319.6 429.4,319.9 430.3,320.0 431.1,320.2 431.9,320.3 432.7,320.4 433.5,320.5 434.4,320.6 435.2,320.7" fill="none" stroke="#8064A2" stroke-width="1.80" stroke-linejoin="round"/>
<path d="M367.9,319.9 368.8,319.9 369.6,319.8 370.4,319.8 371.2,319.7 372.0,319.7 372.9,319.6 373.7,319.5 374.5,319.4 375.3,319.3 376.1,319.1 377.0,318.9 377.8,318.7 378.6,318.5 379.4,318.3 380.2,318.1 381.1,317.8 381.9,317.5 382.7,317.3 383.5,317.0 384.3,316.8 385.2,316.5 386.0,316.3 386.8,316.2 387.6,316.0 388.4,315.9 389.3,315.9 390.1,315.9 390.9,315.9 391.7,316.0 392.5,316.1 393.4,316.3 394.2,316.5 395.0,316.7 395.8,316.9 396.6,317.2 397.5,317.5 398.3,317.7 399.1,318.0 399.9,318.3 400.7,318.5 401.6,318.7 402.4,318.9 403.2,319.1 404.0,319.3 404.8,319.5 405.7,319.6 406.5,319.7 407.3,319.8 408.1,319.9 408.9,319.9 409.8,320.0 410.6,320.0 411.4,320.1" fill="none" stroke="#7EA0D0" stroke-width="1.80" stroke-linejoin="round"/>
<path d="M352.4,319.8 353.2,319.8 354.0,319.8 354.8,319.7 355.6,319.7 356.5,319.6 357.3,319.5 358.1,319.3 358.9,319.2 359.7,319.0 360.6,318.7 361.4,318.5 362.2,318.2 363.0,317.9 363.8,317.5 364.7,317.2 365.5,316.8 366.3,316.5 367.1,316.1 367.9,315.8 368.8,315.5 369.6,315.2 370.4,315.0 371.2,314.9 372.0,314.8 372.9,314.8 373.7,314.9 374.5,315.0 375.3,315.2 376.1,315.5 377.0,315.8 377.8,316.1 378.6,316.5 379.4,316.9 380.2,317.2 381.1,317.6 381.9,318.0 382.7,318.3 383.5,318.6 384.3,318.8 385.2,319.1 386.0,319.3 386.8,319.4 387.6,319.6 388.4,319.7 389.3,319.8 390.1,319.8 390.9,319.9 391.7,320.0 392.5,320.0" fill="none" stroke="#4BACC6" stroke-width="1.80" stroke-linejoin="round"/>
<path d="M296.6,319.9 297.4,319.9 298.2,319.9 299.1,319.9 299.9,319.9 300.7,319.9 301.5,319.9 302.3,319.9 303.2,319.9 304.0,319.9 304.8,319.9 305.6,319.9 306.4,319.9 307.3,319.9 308.1,319.9 308.9,319.9 309.7,319.9 310.5,319.9 311.4,319.9 312.2,319.9 313.0,319.9 313.8,319.9 314.6,319.9 315.5,319.9 316.3,319.9 317.1,319.9 317.9,319.9 318.7,319.9 319.6,319.9 320.4,319.9 321.2,319.9 322.0,319.9 322.8,319.9 323.7,319.9 324.5,319.9 325.3,319.9 326.1,319.9 326.9,319.8 327.8,319.8 328.6,319.8 329.4,319.8 330.2,319.8 331.0,319.8 331.9,319.8 332.7,319.8 333.5,319.7 334.3,319.7 335.1,319.7 336.0,319.6 336.8,319.5 337.6,319.4 338.4,319.3 339.2,319.2 340.1,319.1 340.9,318.9 341.7,318.7 342.5,318.4 343.3,318.2 344.2,317.9 345.0,317.6 345.8,317.3 346.6,317.0 347.4,316.7 348.3,316.5 349.1,316.2 349.9,315.9 350.7,315.7 351.5,315.6 352.4,315.4 353.2,315.3 354.0,315.3 354.8,315.3 355.6,315.3 356.5,315.4 357.3,315.5 358.1,315.6 358.9,315.7 359.7,315.8 360.6,315.9 361.4,315.9 362.2,315.9 363.0,315.9 363.8,315.8 364.7,315.7 365.5,315.5 366.3,315.3 367.1,315.1 367.9,314.9 368.8,314.7 369.6,314.5 370.4,314.4 371.2,314.3 372.0,314.2 372.9,314.1 373.7,314.2 374.5,314.2 375.3,314.3 376.1,314.4 377.0,314.6 377.8,314.7 378.6,314.8 379.4,315.0 380.2,315.1 381.1,315.2 381.9,315.3 382.7,315.3 383.5,315.3 384.3,315.3 385.2,315.3 386.0,315.3 386.8,315.2 387.6,315.2 388.4,315.1 389.3,315.1 390.1,315.0 390.9,315.0 391.7,315.0 392.5,315.0 393.4,314.9 394.2,314.9 395.0,314.8 395.8,314.7 396.6,314.6 397.5,314.4 398.3,314.1 399.1,313.9 399.9,313.5 400.7,313.1 401.6,312.6 402.4,312.1 403.2,311.6 404.0,311.0 404.8,310.4 405.7,309.8 406.5,309.2 407.3,308.6 408.1,308.1 408.9,307.6 409.8,307.1 410.6,306.6 411.4,306.2 412.2,305.8 413.0,305.4 413.9,305.1 414.7,304.6 415.5,304.2 416.3,303.7 417.1,303.1 418.0,302.4 418.8,301.6 419.6,300.6 420.4,299.4 421.2,298.1 422.1,296.5 422.9,294.8 423.7,292.8 424.5,290.6 425.3,288.1 426.2,285.3 427.0,282.3 427.8,279.0 428.6,275.5 429.4,271.6 430.3,267.6 431.1,263.3 431.9,258.8 432.7,254.1 433.5,249.3 434.4,244.5 435.2,239.6 436.0,234.9 436.8,230.3 437.6,225.9 438.5,221.9 439.3,218.3 440.1,215.3 440.9,212.8 441.7,211.1 442.6,210.2 443.4,210.1 444.2,210.8 445.0,212.4 445.8,214.8 446.7,217.9 447.5,221.8 448.3,226.3 449.1,231.3 449.9,236.8 450.8,242.6 451.6,248.6 452.4,254.7 453.2,260.8 454.0,266.9 454.9,272.7 455.7,278.3 456.5,283.6 457.3,288.5 458.1,293.0 459.0,297.1 459.8,300.8 460.6,304.0 461.4,306.9 462.2,309.4 463.1,311.6 463.9,313.4 464.7,314.9 465.5,316.2 466.3,317.3 467.2,318.2 468.0,318.9 468.8,319.4 469.6,319.9 470.4,320.2 471.3,320.5 472.1,320.8 472.9,320.9 473.7,321.1 474.5,321.2 475.4,321.3 476.2,321.4 477.0,321.4 477.8,321.5 478.6,321.6 479.5,321.6 480.3,321.7 481.1,321.7 481.9,321.7 482.7,321.8 483.6,321.8 484.4,321.8 485.2,321.9 486.0,321.9 486.8,321.9 487.7,322.0 488.5,322.0 489.3,322.0 490.1,322.1 490.9,322.1 491.8,322.1 492.6,322.1 493.4,322.1 494.2,322.2 495.0,322.2 495.9,322.2 496.7,322.2 497.5,322.2 498.3,322.2 499.1,322.2 500.0,322.2 500.8,322.2 501.6,322.3 502.4,322.3 503.2,322.3 504.1,322.3 504.9,322.3 505.7,322.3 506.5,322.3 507.3,322.3 508.2,322.3 509.0,322.3 509.8,322.3 510.6,322.3 511.4,322.3 512.3,322.3 513.1,322.3 513.9,322.3 514.7,322.3 515.5,322.3 516.4,322.3 517.2,322.3 518.0,322.3 518.8,322.3 519.6,322.3 520.5,322.3 521.3,322.3 522.1,322.3 522.9,322.3 523.7,322.3 524.6,322.3 525.4,322.3 526.2,322.3 527.0,322.3 527.8,322.3 528.7,322.3 529.5,322.3 530.3,322.3 531.1,322.3 531.9,322.3 532.8,322.3 533.6,322.3 534.4,322.3 535.2,322.3 536.0,322.3 536.9,322.3 537.7,322.3 538.5,322.3 539.3,322.3 540.1,322.3 541.0,322.3 541.8,322.3 542.6,322.3" fill="none" stroke="#3D7CC2" stroke-width="1.90" stroke-linejoin="round"/>
<path d="M405.7,320.1 406.5,320.1 407.3,320.1 408.1,320.2 408.9,320.2 409.8,320.2 410.6,320.2 411.4,320.2 412.2,320.2 413.0,320.2 413.9,320.2 414.7,320.2 415.5,320.2 416.3,320.2 417.1,320.3 418.0,320.3 418.8,320.3 419.6,320.3 420.4,320.3 421.2,320.3 422.1,320.3 422.9,320.3 423.7,320.4 424.5,320.4 425.3,320.4 426.2,320.4 427.0,320.4 427.8,320.5 428.6,320.5 429.4,320.5 430.3,320.5 431.1,320.6 431.9,320.6 432.7,320.6 433.5,320.7 434.4,320.7 435.2,320.8 436.0,320.8 436.8,320.9 437.6,320.9 438.5,321.0 439.3,321.1 440.1,321.1 440.9,321.2 441.7,321.2 442.6,321.3 443.4,321.4 444.2,321.4 445.0,321.5 445.8,321.6 446.7,321.6 447.5,321.7 448.3,321.8 449.1,321.8 449.9,321.9 450.8,321.9 451.6,322.0 452.4,322.0 453.2,322.0 454.0,322.1 454.9,322.1 455.7,322.1 456.5,322.2 457.3,322.2 458.1,322.2 459.0,322.2 459.8,322.2 460.6,322.2 461.4,322.2 462.2,322.3 463.1,322.3 463.9,322.3 464.7,322.3 465.5,322.3 466.3,322.3 467.2,322.3 468.0,322.3 468.8,322.3 469.6,322.3 470.4,322.3 471.3,322.3" fill="none" stroke="#8EA6CC" stroke-width="1.7"/>
<path d="M326.1,319.9 326.9,319.9 327.8,319.9 328.6,319.9 329.4,319.9 330.2,319.9 331.0,319.9 331.9,319.8 332.7,319.8 333.5,319.8 334.3,319.8 335.1,319.7 336.0,319.7 336.8,319.6 337.6,319.5 338.4,319.4 339.2,319.3 340.1,319.1 340.9,318.9 341.7,318.7 342.5,318.5 343.3,318.3 344.2,318.0 345.0,317.7 345.8,317.4 346.6,317.1 347.4,316.8 348.3,316.5 349.1,316.3 349.9,316.0 350.7,315.8 351.5,315.7 352.4,315.6 353.2,315.5 354.0,315.5 354.8,315.6 355.6,315.7 356.5,315.9 357.3,316.1 358.1,316.3 358.9,316.6 359.7,316.9 360.6,317.2 361.4,317.5 362.2,317.8 363.0,318.0 363.8,318.3 364.7,318.6 365.5,318.8 366.3,319.0 367.1,319.2 367.9,319.3 368.8,319.5 369.6,319.6 370.4,319.7 371.2,319.7 372.0,319.8 372.9,319.9 373.7,319.9 374.5,319.9 375.3,320.0 376.1,320.0 377.0,320.0 377.8,320.0 378.6,320.0 379.4,320.0 380.2,320.0 381.1,320.0 381.9,320.0 382.7,320.0 383.5,320.0 384.3,320.0 385.2,320.0 386.0,320.0 386.8,320.0 387.6,320.1 388.4,320.1 389.3,320.1 390.1,320.1 390.9,320.1 391.7,320.1 392.5,320.1 393.4,320.1 394.2,320.1 395.0,320.1 395.8,320.1 396.6,320.1 397.5,320.1 398.3,320.1 399.1,320.1 399.9,320.1 400.7,320.1 401.6,320.1 402.4,320.1 403.2,320.1 404.0,320.1 404.8,320.1" fill="none" stroke="#F79646" stroke-width="1.80" stroke-linejoin="round"/>
<path d="M405.7,319.7 406.5,319.7 407.3,319.7 408.1,319.7 408.9,319.7 409.8,319.6 410.6,319.6 411.4,319.6 412.2,319.5 413.0,319.5 413.9,319.4 414.7,319.3 415.5,319.1 416.3,319.0 417.1,318.7 418.0,318.5 418.8,318.1 419.6,317.6 420.4,317.1 421.2,316.4 422.1,315.5 422.9,314.5 423.7,313.2 424.5,311.7 425.3,310.0 426.2,307.9 427.0,305.5 427.8,302.7 428.6,299.6 429.4,296.1 430.3,292.2 431.1,287.9 431.9,283.3 432.7,278.3 433.5,273.1 434.4,267.7 435.2,262.1 436.0,256.5 436.8,250.9 437.6,245.5 438.5,240.3 439.3,235.5 440.1,231.3 440.9,227.6 441.7,224.7 442.6,222.5 443.4,221.2 444.2,220.8 445.0,221.4 445.8,222.7 446.7,225.0 447.5,228.0 448.3,231.7 449.1,236.1 449.9,240.9 450.8,246.2 451.6,251.7 452.4,257.4 453.2,263.2 454.0,269.0 454.9,274.6 455.7,280.0 456.5,285.1 457.3,289.9 458.1,294.3 459.0,298.3 459.8,301.9 460.6,305.2 461.4,308.0 462.2,310.5 463.1,312.6 463.9,314.5 464.7,316.0 465.5,317.3 466.3,318.3 467.2,319.2 468.0,319.9 468.8,320.4 469.6,320.9 470.4,321.2 471.3,321.5 472.1,321.7 472.9,321.9" fill="none" stroke="#C0504D" stroke-width="1.80" stroke-linejoin="round"/>
<text x="17.35" y="152.32" font-size="5.90" font-weight="normal" fill="#2a2a2a" font-family='"Liberation Sans", Arial, Helvetica, sans-serif' text-anchor="start" textLength="8.90" lengthAdjust="spacingAndGlyphs" stroke="#2a2a2a" stroke-width="0.20">292</text>
<text x="56.82" y="152.32" font-size="5.90" font-weight="normal" fill="#2a2a2a" font-family='"Liberation Sans", Arial, Helvetica, sans-serif' text-anchor="start" textLength="8.90" lengthAdjust="spacingAndGlyphs" stroke="#2a2a2a" stroke-width="0.20">290</text>
<text x="96.28" y="152.32" font-size="5.90" font-weight="normal" fill="#2a2a2a" font-family='"Liberation Sans", Arial, Helvetica, sans-serif' text-anchor="start" textLength="8.90" lengthAdjust="spacingAndGlyphs" stroke="#2a2a2a" stroke-width="0.20">288</text>
<text x="135.75" y="152.32" font-size="5.90" font-weight="normal" fill="#2a2a2a" font-family='"Liberation Sans", Arial, Helvetica, sans-serif' text-anchor="start" textLength="8.90" lengthAdjust="spacingAndGlyphs" stroke="#2a2a2a" stroke-width="0.20">286</text>
<text x="175.22" y="152.32" font-size="5.90" font-weight="normal" fill="#2a2a2a" font-family='"Liberation Sans", Arial, Helvetica, sans-serif' text-anchor="start" textLength="8.90" lengthAdjust="spacingAndGlyphs" stroke="#2a2a2a" stroke-width="0.20">284</text>
<text x="214.68" y="152.32" font-size="5.90" font-weight="normal" fill="#2a2a2a" font-family='"Liberation Sans", Arial, Helvetica, sans-serif' text-anchor="start" textLength="8.90" lengthAdjust="spacingAndGlyphs" stroke="#2a2a2a" stroke-width="0.20">282</text>
<text x="254.15" y="152.32" font-size="5.90" font-weight="normal" fill="#2a2a2a" font-family='"Liberation Sans", Arial, Helvetica, sans-serif' text-anchor="start" textLength="8.90" lengthAdjust="spacingAndGlyphs" stroke="#2a2a2a" stroke-width="0.20">280</text>
<text x="302.65" y="149.69" font-size="5.80" font-weight="normal" fill="#2a2a2a" font-family='"Liberation Sans", Arial, Helvetica, sans-serif' text-anchor="start" textLength="8.70" lengthAdjust="spacingAndGlyphs" stroke="#2a2a2a" stroke-width="0.15">292</text>
<text x="339.08" y="149.69" font-size="5.80" font-weight="normal" fill="#2a2a2a" font-family='"Liberation Sans", Arial, Helvetica, sans-serif' text-anchor="start" textLength="8.70" lengthAdjust="spacingAndGlyphs" stroke="#2a2a2a" stroke-width="0.15">290</text>
<text x="375.52" y="149.69" font-size="5.80" font-weight="normal" fill="#2a2a2a" font-family='"Liberation Sans", Arial, Helvetica, sans-serif' text-anchor="start" textLength="8.70" lengthAdjust="spacingAndGlyphs" stroke="#2a2a2a" stroke-width="0.15">288</text>
<text x="411.95" y="149.69" font-size="5.80" font-weight="normal" fill="#2a2a2a" font-family='"Liberation Sans", Arial, Helvetica, sans-serif' text-anchor="start" textLength="8.70" lengthAdjust="spacingAndGlyphs" stroke="#2a2a2a" stroke-width="0.15">286</text>
<text x="448.38" y="149.69" font-size="5.80" font-weight="normal" fill="#2a2a2a" font-family='"Liberation Sans", Arial, Helvetica, sans-serif' text-anchor="start" textLength="8.70" lengthAdjust="spacingAndGlyphs" stroke="#2a2a2a" stroke-width="0.15">284</text>
<text x="484.82" y="149.69" font-size="5.80" font-weight="normal" fill="#2a2a2a" font-family='"Liberation Sans", Arial, Helvetica, sans-serif' text-anchor="start" textLength="8.70" lengthAdjust="spacingAndGlyphs" stroke="#2a2a2a" stroke-width="0.15">282</text>
<text x="521.25" y="149.69" font-size="5.80" font-weight="normal" fill="#2a2a2a" font-family='"Liberation Sans", Arial, Helvetica, sans-serif' text-anchor="start" textLength="8.70" lengthAdjust="spacingAndGlyphs" stroke="#2a2a2a" stroke-width="0.15">280</text>
<text x="10.60" y="333.03" font-size="6.20" font-weight="normal" fill="#2a2a2a" font-family='"Liberation Sans", Arial, Helvetica, sans-serif' text-anchor="start" textLength="9.80" lengthAdjust="spacingAndGlyphs" stroke="#2a2a2a" stroke-width="0.20">292</text>
<text x="51.88" y="333.03" font-size="6.20" font-weight="normal" fill="#2a2a2a" font-family='"Liberation Sans", Arial, Helvetica, sans-serif' text-anchor="start" textLength="9.80" lengthAdjust="spacingAndGlyphs" stroke="#2a2a2a" stroke-width="0.20">290</text>
<text x="93.17" y="333.03" font-size="6.20" font-weight="normal" fill="#2a2a2a" font-family='"Liberation Sans", Arial, Helvetica, sans-serif' text-anchor="start" textLength="9.80" lengthAdjust="spacingAndGlyphs" stroke="#2a2a2a" stroke-width="0.20">288</text>
<text x="134.45" y="333.03" font-size="6.20" font-weight="normal" fill="#2a2a2a" font-family='"Liberation Sans", Arial, Helvetica, sans-serif' text-anchor="start" textLength="9.80" lengthAdjust="spacingAndGlyphs" stroke="#2a2a2a" stroke-width="0.20">286</text>
<text x="175.73" y="333.03" font-size="6.20" font-weight="normal" fill="#2a2a2a" font-family='"Liberation Sans", Arial, Helvetica, sans-serif' text-anchor="start" textLength="9.80" lengthAdjust="spacingAndGlyphs" stroke="#2a2a2a" stroke-width="0.20">284</text>
<text x="217.02" y="333.03" font-size="6.20" font-weight="normal" fill="#2a2a2a" font-family='"Liberation Sans", Arial, Helvetica, sans-serif' text-anchor="start" textLength="9.80" lengthAdjust="spacingAndGlyphs" stroke="#2a2a2a" stroke-width="0.20">282</text>
<text x="258.30" y="333.03" font-size="6.20" font-weight="normal" fill="#2a2a2a" font-family='"Liberation Sans", Arial, Helvetica, sans-serif' text-anchor="start" textLength="9.80" lengthAdjust="spacingAndGlyphs" stroke="#2a2a2a" stroke-width="0.20">280</text>
<text x="291.80" y="334.30" font-size="6.10" font-weight="normal" fill="#2a2a2a" font-family='"Liberation Sans", Arial, Helvetica, sans-serif' text-anchor="start" textLength="9.60" lengthAdjust="spacingAndGlyphs" stroke="#2a2a2a" stroke-width="0.20">292</text>
<text x="332.80" y="334.30" font-size="6.10" font-weight="normal" fill="#2a2a2a" font-family='"Liberation Sans", Arial, Helvetica, sans-serif' text-anchor="start" textLength="9.60" lengthAdjust="spacingAndGlyphs" stroke="#2a2a2a" stroke-width="0.20">290</text>
<text x="373.80" y="334.30" font-size="6.10" font-weight="normal" fill="#2a2a2a" font-family='"Liberation Sans", Arial, Helvetica, sans-serif' text-anchor="start" textLength="9.60" lengthAdjust="spacingAndGlyphs" stroke="#2a2a2a" stroke-width="0.20">288</text>
<text x="414.80" y="334.30" font-size="6.10" font-weight="normal" fill="#2a2a2a" font-family='"Liberation Sans", Arial, Helvetica, sans-serif' text-anchor="start" textLength="9.60" lengthAdjust="spacingAndGlyphs" stroke="#2a2a2a" stroke-width="0.20">286</text>
<text x="455.80" y="334.30" font-size="6.10" font-weight="normal" fill="#2a2a2a" font-family='"Liberation Sans", Arial, Helvetica, sans-serif' text-anchor="start" textLength="9.60" lengthAdjust="spacingAndGlyphs" stroke="#2a2a2a" stroke-width="0.20">284</text>
<text x="496.80" y="334.30" font-size="6.10" font-weight="normal" fill="#2a2a2a" font-family='"Liberation Sans", Arial, Helvetica, sans-serif' text-anchor="start" textLength="9.60" lengthAdjust="spacingAndGlyphs" stroke="#2a2a2a" stroke-width="0.20">282</text>
<text x="537.80" y="334.30" font-size="6.10" font-weight="normal" fill="#2a2a2a" font-family='"Liberation Sans", Arial, Helvetica, sans-serif' text-anchor="start" textLength="9.60" lengthAdjust="spacingAndGlyphs" stroke="#2a2a2a" stroke-width="0.20">280</text>
<text x="28.10" y="14.60" font-size="7.20" font-weight="bold" fill="#1a1a1a" font-family='"Liberation Sans", Arial, Helvetica, sans-serif' text-anchor="start" textLength="56.20" lengthAdjust="spacing">C-C/ C-H : 95.7%</text>
<text x="28.10" y="23.70" font-size="7.20" font-weight="bold" fill="#1a1a1a" font-family='"Liberation Sans", Arial, Helvetica, sans-serif' text-anchor="start" textLength="37.50" lengthAdjust="spacing">C=O : 4.3%</text>
<text x="313.70" y="10.90" font-size="6.70" font-weight="normal" fill="#1a1a1a" font-family='"Liberation Sans", Arial, Helvetica, sans-serif' text-anchor="start" textLength="57.70" lengthAdjust="spacing" stroke="#1a1a1a" stroke-width="0.28">C-C / C-H: 67.31%</text>
<text x="313.70" y="19.50" font-size="6.70" font-weight="normal" fill="#1a1a1a" font-family='"Liberation Sans", Arial, Helvetica, sans-serif' text-anchor="start" textLength="63.10" lengthAdjust="spacing" stroke="#1a1a1a" stroke-width="0.28">C-N / C-OH: 16.01%</text>
<text x="313.70" y="27.90" font-size="6.70" font-weight="normal" fill="#1a1a1a" font-family='"Liberation Sans", Arial, Helvetica, sans-serif' text-anchor="start" textLength="35.80" lengthAdjust="spacing" stroke="#1a1a1a" stroke-width="0.28">C-O: 7.48%</text>
<text x="313.70" y="36.30" font-size="6.70" font-weight="normal" fill="#1a1a1a" font-family='"Liberation Sans", Arial, Helvetica, sans-serif' text-anchor="start" textLength="45.50" lengthAdjust="spacing" stroke="#1a1a1a" stroke-width="0.28">C-O-C : 2.04%</text>
<text x="313.70" y="44.70" font-size="6.70" font-weight="normal" fill="#1a1a1a" font-family='"Liberation Sans", Arial, Helvetica, sans-serif' text-anchor="start" textLength="48.00" lengthAdjust="spacing" stroke="#1a1a1a" stroke-width="0.28">O-C=O : 3.11%</text>
<text x="313.70" y="53.10" font-size="6.70" font-weight="normal" fill="#1a1a1a" font-family='"Liberation Sans", Arial, Helvetica, sans-serif' text-anchor="start" textLength="40.00" lengthAdjust="spacing" stroke="#1a1a1a" stroke-width="0.28">C=O : 4.05%</text>
<text x="19.80" y="199.80" font-size="8.00" font-weight="normal" fill="#1a1a1a" font-family='"Liberation Sans", Arial, Helvetica, sans-serif' text-anchor="start" textLength="64.20" lengthAdjust="spacing" stroke="#1a1a1a" stroke-width="0.12">C-C / C-H: 73.81%</text>
<text x="19.80" y="208.90" font-size="8.00" font-weight="normal" fill="#1a1a1a" font-family='"Liberation Sans", Arial, Helvetica, sans-serif' text-anchor="start" textLength="69.70" lengthAdjust="spacing" stroke="#1a1a1a" stroke-width="0.12">C-N / C-OH: 10.85%</text>
<text x="19.80" y="218.10" font-size="8.00" font-weight="normal" fill="#1a1a1a" font-family='"Liberation Sans", Arial, Helvetica, sans-serif' text-anchor="start" textLength="39.70" lengthAdjust="spacing" stroke="#1a1a1a" stroke-width="0.12">C-O: 5.69%</text>
<text x="19.80" y="227.30" font-size="8.00" font-weight="normal" fill="#1a1a1a" font-family='"Liberation Sans", Arial, Helvetica, sans-serif' text-anchor="start" textLength="49.70" lengthAdjust="spacing" stroke="#1a1a1a" stroke-width="0.12">C-O-C : 3.33%</text>
<text x="19.80" y="236.50" font-size="8.00" font-weight="normal" fill="#1a1a1a" font-family='"Liberation Sans", Arial, Helvetica, sans-serif' text-anchor="start" textLength="52.40" lengthAdjust="spacing" stroke="#1a1a1a" stroke-width="0.12">O-C=O : 3.07%</text>
<text x="19.80" y="245.70" font-size="8.00" font-weight="normal" fill="#1a1a1a" font-family='"Liberation Sans", Arial, Helvetica, sans-serif' text-anchor="start" textLength="43.70" lengthAdjust="spacing" stroke="#1a1a1a" stroke-width="0.12">C=O : 3.26%</text>
<text x="301.90" y="199.80" font-size="8.00" font-weight="normal" fill="#1a1a1a" font-family='"Liberation Sans", Arial, Helvetica, sans-serif' text-anchor="start" textLength="64.00" lengthAdjust="spacing" stroke="#1a1a1a" stroke-width="0.12">C-C / C-H: 71.56%</text>
<text x="301.90" y="208.90" font-size="8.00" font-weight="normal" fill="#1a1a1a" font-family='"Liberation Sans", Arial, Helvetica, sans-serif' text-anchor="start" textLength="69.50" lengthAdjust="spacing" stroke="#1a1a1a" stroke-width="0.12">C-N / C-OH: 13.24%</text>
<text x="301.90" y="218.10" font-size="8.00" font-weight="normal" fill="#1a1a1a" font-family='"Liberation Sans", Arial, Helvetica, sans-serif' text-anchor="start" textLength="35.30" lengthAdjust="spacing" stroke="#1a1a1a" stroke-width="0.12">C-O: 5.3%</text>
<text x="301.90" y="227.30" font-size="8.00" font-weight="normal" fill="#1a1a1a" font-family='"Liberation Sans", Arial, Helvetica, sans-serif' text-anchor="start" textLength="49.80" lengthAdjust="spacing" stroke="#1a1a1a" stroke-width="0.12">C-O-C : 3.24%</text>
<text x="301.90" y="236.50" font-size="8.00" font-weight="normal" fill="#1a1a1a" font-family='"Liberation Sans", Arial, Helvetica, sans-serif' text-anchor="start" textLength="52.20" lengthAdjust="spacing" stroke="#1a1a1a" stroke-width="0.12">O-C=O : 3.47%</text>
<text x="301.90" y="245.70" font-size="8.00" font-weight="normal" fill="#1a1a1a" font-family='"Liberation Sans", Arial, Helvetica, sans-serif' text-anchor="start" textLength="44.00" lengthAdjust="spacing" stroke="#1a1a1a" stroke-width="0.12">C=O : 3.19%</text>
<text x="114.50" y="166.00" font-size="7.40" font-weight="normal" fill="#1a1a1a" font-family='"Liberation Sans", Arial, Helvetica, sans-serif' text-anchor="start" textLength="63.70" lengthAdjust="spacing" stroke="#1a1a1a" stroke-width="0.45">Binding energy (eV)</text>
<text x="386.70" y="162.30" font-size="6.90" font-weight="normal" fill="#1a1a1a" font-family='"Liberation Sans", Arial, Helvetica, sans-serif' text-anchor="start" textLength="60.60" lengthAdjust="spacing" stroke="#1a1a1a" stroke-width="0.15">Binding energy (eV)</text>
<text x="106.70" y="348.60" font-size="7.65" font-weight="normal" fill="#1a1a1a" font-family='"Liberation Sans", Arial, Helvetica, sans-serif' text-anchor="start" textLength="67.80" lengthAdjust="spacing">Binding energy (eV)</text>
<text x="388.20" y="351.40" font-size="7.65" font-weight="normal" fill="#1a1a1a" font-family='"Liberation Sans", Arial, Helvetica, sans-serif' text-anchor="start" textLength="67.30" lengthAdjust="spacing" stroke="#1a1a1a" stroke-width="0.30">Binding energy (eV)</text>
<text transform="translate(13.40,107.70) rotate(-90)" x="0" y="0" font-size="7.20" fill="#1a1a1a" font-family='"Liberation Sans", Arial, Helvetica, sans-serif' textLength="61.10" lengthAdjust="spacingAndGlyphs" stroke="#1a1a1a" stroke-width="0.35">Intensity (arb.units)</text>
<text transform="translate(302.10,104.90) rotate(-90)" x="0" y="0" font-size="6.90" fill="#1a1a1a" font-family='"Liberation Sans", Arial, Helvetica, sans-serif' textLength="60.70" lengthAdjust="spacingAndGlyphs" stroke="#1a1a1a" stroke-width="0.30">Intensity (arb. units)</text>
<text transform="translate(8.90,287.00) rotate(-90)" x="0" y="0" font-size="8.00" fill="#1a1a1a" font-family='"Liberation Sans", Arial, Helvetica, sans-serif' textLength="67.10" lengthAdjust="spacingAndGlyphs" stroke="#1a1a1a" stroke-width="0.15">Intensity (arb. units)</text>
<text transform="translate(292.20,290.30) rotate(-90)" x="0" y="0" font-size="7.65" fill="#1a1a1a" font-family='"Liberation Sans", Arial, Helvetica, sans-serif' textLength="66.80" lengthAdjust="spacingAndGlyphs" stroke="#1a1a1a" stroke-width="0.30">Intensity (arb. units)</text>
<text x="126.70" y="183.30" font-size="12.00" font-weight="bold" fill="#111" font-family='"Liberation Serif", "Times New Roman", serif' text-anchor="start" textLength="14.10" lengthAdjust="spacing">(a)</text>
<text x="406.40" y="178.30" font-size="12.00" font-weight="bold" fill="#111" font-family='"Liberation Serif", "Times New Roman", serif' text-anchor="start" textLength="15.40" lengthAdjust="spacing">(b)</text>
<text x="127.30" y="368.30" font-size="12.00" font-weight="bold" fill="#111" font-family='"Liberation Serif", "Times New Roman", serif' text-anchor="start" textLength="13.60" lengthAdjust="spacing">(c)</text>
<text x="406.40" y="367.40" font-size="12.00" font-weight="bold" fill="#111" font-family='"Liberation Serif", "Times New Roman", serif' text-anchor="start" textLength="16.30" lengthAdjust="spacing">(d)</text>
<text x="114.10" y="31.70" font-size="7.20" font-weight="bold" fill="#1a1a1a" font-family='"Liberation Sans", Arial, Helvetica, sans-serif' text-anchor="start" textLength="27.70" lengthAdjust="spacing">C-C/C-H</text>
<line x1="130.50" y1="37.50" x2="146.99" y2="56.32" stroke="#111" stroke-width="1.05"/>
<polygon points="148.90,58.50 145.38,57.06 147.94,54.82" fill="#111"/>
<text x="85.00" y="130.40" font-size="7.10" font-weight="bold" fill="#1a1a1a" font-family='"Liberation Sans", Arial, Helvetica, sans-serif' text-anchor="start" textLength="14.90" lengthAdjust="spacing">C=O</text>
<line x1="97.10" y1="132.90" x2="119.99" y2="138.78" stroke="#111" stroke-width="1.05"/>
<polygon points="122.80,139.50 119.08,140.30 119.93,137.01" fill="#111"/>
<text x="448.70" y="20.80" font-size="6.80" font-weight="normal" fill="#1a1a1a" font-family='"Liberation Sans", Arial, Helvetica, sans-serif' text-anchor="start" textLength="28.00" lengthAdjust="spacing" stroke="#1a1a1a" stroke-width="0.30">C-C /C-H</text>
<line x1="461.50" y1="24.30" x2="440.38" y2="33.00" stroke="#111" stroke-width="1.05"/>
<polygon points="437.70,34.10 440.20,31.23 441.49,34.38" fill="#111"/>
<text x="389.60" y="73.90" font-size="6.80" font-weight="normal" fill="#1a1a1a" font-family='"Liberation Sans", Arial, Helvetica, sans-serif' text-anchor="start" textLength="31.40" lengthAdjust="spacing" stroke="#1a1a1a" stroke-width="0.30">C-N/C-OH</text>
<line x1="409.70" y1="76.80" x2="424.69" y2="109.46" stroke="#111" stroke-width="1.05"/>
<polygon points="425.90,112.10 422.94,109.72 426.03,108.30" fill="#111"/>
<text x="384.40" y="86.50" font-size="6.80" font-weight="normal" fill="#1a1a1a" font-family='"Liberation Sans", Arial, Helvetica, sans-serif' text-anchor="start" textLength="12.20" lengthAdjust="spacing" stroke="#1a1a1a" stroke-width="0.30">C-O</text>
<line x1="394.00" y1="88.10" x2="404.89" y2="120.85" stroke="#111" stroke-width="1.05"/>
<polygon points="405.80,123.60 403.11,120.91 406.34,119.84" fill="#111"/>
<text x="370.90" y="98.90" font-size="6.80" font-weight="normal" fill="#1a1a1a" font-family='"Liberation Sans", Arial, Helvetica, sans-serif' text-anchor="start" textLength="13.60" lengthAdjust="spacing" stroke="#1a1a1a" stroke-width="0.30">C=O</text>
<line x1="380.00" y1="101.80" x2="390.65" y2="126.44" stroke="#111" stroke-width="1.05"/>
<polygon points="391.80,129.10 388.89,126.65 392.01,125.30" fill="#111"/>
<text x="350.90" y="113.70" font-size="6.80" font-weight="normal" fill="#1a1a1a" font-family='"Liberation Sans", Arial, Helvetica, sans-serif' text-anchor="start" textLength="19.10" lengthAdjust="spacing" stroke="#1a1a1a" stroke-width="0.30">C-O-C</text>
<line x1="366.40" y1="117.30" x2="371.13" y2="126.99" stroke="#111" stroke-width="1.05"/>
<polygon points="372.40,129.60 369.38,127.29 372.44,125.80" fill="#111"/>
<text x="323.30" y="125.00" font-size="6.80" font-weight="normal" fill="#1a1a1a" font-family='"Liberation Sans", Arial, Helvetica, sans-serif' text-anchor="start" textLength="21.20" lengthAdjust="spacing" stroke="#1a1a1a" stroke-width="0.30">O-C=O</text>
<line x1="341.50" y1="127.30" x2="352.08" y2="129.83" stroke="#111" stroke-width="1.05"/>
<polygon points="354.90,130.50 351.20,131.36 351.99,128.06" fill="#111"/>
<text x="174.10" y="213.80" font-size="7.50" font-weight="normal" fill="#1a1a1a" font-family='"Liberation Sans", Arial, Helvetica, sans-serif' text-anchor="start" textLength="30.90" lengthAdjust="spacing" stroke="#1a1a1a" stroke-width="0.15">C-C /C-H</text>
<line x1="185.30" y1="216.30" x2="166.00" y2="225.82" stroke="#111" stroke-width="1.05"/>
<polygon points="163.40,227.10 165.70,224.07 167.20,227.12" fill="#111"/>
<text x="113.00" y="258.70" font-size="7.50" font-weight="normal" fill="#1a1a1a" font-family='"Liberation Sans", Arial, Helvetica, sans-serif' text-anchor="start" textLength="34.70" lengthAdjust="spacing" stroke="#1a1a1a" stroke-width="0.15">C-N/C-OH</text>
<line x1="134.50" y1="262.70" x2="148.10" y2="289.91" stroke="#111" stroke-width="1.05"/>
<polygon points="149.40,292.50 146.36,290.22 149.40,288.70" fill="#111"/>
<text x="105.70" y="272.90" font-size="7.00" font-weight="normal" fill="#1a1a1a" font-family='"Liberation Sans", Arial, Helvetica, sans-serif' text-anchor="start" textLength="13.60" lengthAdjust="spacing" stroke="#1a1a1a" stroke-width="0.15">C-O</text>
<line x1="114.90" y1="277.30" x2="127.86" y2="304.58" stroke="#111" stroke-width="1.05"/>
<polygon points="129.10,307.20 126.11,304.86 129.18,303.40" fill="#111"/>
<text x="91.10" y="289.90" font-size="7.20" font-weight="normal" fill="#1a1a1a" font-family='"Liberation Sans", Arial, Helvetica, sans-serif' text-anchor="start" textLength="15.50" lengthAdjust="spacing" stroke="#1a1a1a" stroke-width="0.15">C=O</text>
<line x1="101.80" y1="292.20" x2="108.28" y2="309.48" stroke="#111" stroke-width="1.05"/>
<polygon points="109.30,312.20 106.51,309.61 109.70,308.42" fill="#111"/>
<text x="76.70" y="304.00" font-size="7.20" font-weight="normal" fill="#1a1a1a" font-family='"Liberation Sans", Arial, Helvetica, sans-serif' text-anchor="start" textLength="21.80" lengthAdjust="spacing" stroke="#1a1a1a" stroke-width="0.15">C-O-C</text>
<line x1="85.80" y1="305.60" x2="88.22" y2="308.71" stroke="#111" stroke-width="1.05"/>
<polygon points="90.00,311.00 86.57,309.36 89.25,307.27" fill="#111"/>
<text x="45.50" y="309.60" font-size="7.20" font-weight="normal" fill="#1a1a1a" font-family='"Liberation Sans", Arial, Helvetica, sans-serif' text-anchor="start" textLength="24.50" lengthAdjust="spacing" stroke="#1a1a1a" stroke-width="0.15">O-C=O</text>
<line x1="62.70" y1="310.90" x2="68.21" y2="313.12" stroke="#111" stroke-width="1.05"/>
<polygon points="70.90,314.20 67.11,314.51 68.38,311.35" fill="#111"/>
<text x="459.20" y="223.20" font-size="7.70" font-weight="normal" fill="#1a1a1a" font-family='"Liberation Sans", Arial, Helvetica, sans-serif' text-anchor="start" textLength="29.60" lengthAdjust="spacing" stroke="#1a1a1a" stroke-width="0.28">C-C/C-H</text>
<line x1="471.90" y1="225.30" x2="446.60" y2="232.05" stroke="#111" stroke-width="1.05"/>
<polygon points="443.80,232.80 446.65,230.28 447.52,233.57" fill="#111"/>
<text x="393.30" y="256.00" font-size="7.40" font-weight="normal" fill="#1a1a1a" font-family='"Liberation Sans", Arial, Helvetica, sans-serif' text-anchor="start" textLength="34.40" lengthAdjust="spacing" stroke="#1a1a1a" stroke-width="0.28">C-N/C-OH</text>
<line x1="418.90" y1="259.80" x2="428.51" y2="289.74" stroke="#111" stroke-width="1.05"/>
<polygon points="429.40,292.50 426.74,289.78 429.98,288.74" fill="#111"/>
<text x="386.20" y="269.20" font-size="7.20" font-weight="normal" fill="#1a1a1a" font-family='"Liberation Sans", Arial, Helvetica, sans-serif' text-anchor="start" textLength="14.20" lengthAdjust="spacing" stroke="#1a1a1a" stroke-width="0.28">C-O</text>
<line x1="396.70" y1="271.40" x2="408.72" y2="305.07" stroke="#111" stroke-width="1.05"/>
<polygon points="409.70,307.80 406.96,305.17 410.16,304.03" fill="#111"/>
<text x="373.60" y="280.10" font-size="7.20" font-weight="normal" fill="#1a1a1a" font-family='"Liberation Sans", Arial, Helvetica, sans-serif' text-anchor="start" textLength="15.20" lengthAdjust="spacing" stroke="#1a1a1a" stroke-width="0.28">C=O</text>
<line x1="382.90" y1="282.70" x2="389.97" y2="309.69" stroke="#111" stroke-width="1.05"/>
<polygon points="390.70,312.50 388.19,309.64 391.48,308.78" fill="#111"/>
<text x="356.70" y="290.20" font-size="7.20" font-weight="normal" fill="#1a1a1a" font-family='"Liberation Sans", Arial, Helvetica, sans-serif' text-anchor="start" textLength="21.60" lengthAdjust="spacing" stroke="#1a1a1a" stroke-width="0.28">C-O-C</text>
<line x1="369.30" y1="292.90" x2="370.90" y2="308.42" stroke="#111" stroke-width="1.05"/>
<polygon points="371.20,311.30 369.16,308.09 372.54,307.74" fill="#111"/>
<text x="327.30" y="300.00" font-size="7.20" font-weight="normal" fill="#1a1a1a" font-family='"Liberation Sans", Arial, Helvetica, sans-serif' text-anchor="start" textLength="24.00" lengthAdjust="spacing" stroke="#1a1a1a" stroke-width="0.28">O-C=O</text>
<line x1="339.10" y1="302.40" x2="350.53" y2="312.57" stroke="#111" stroke-width="1.05"/>
<polygon points="352.70,314.50 349.03,313.51 351.29,310.97" fill="#111"/>
</svg>
</body></html>
